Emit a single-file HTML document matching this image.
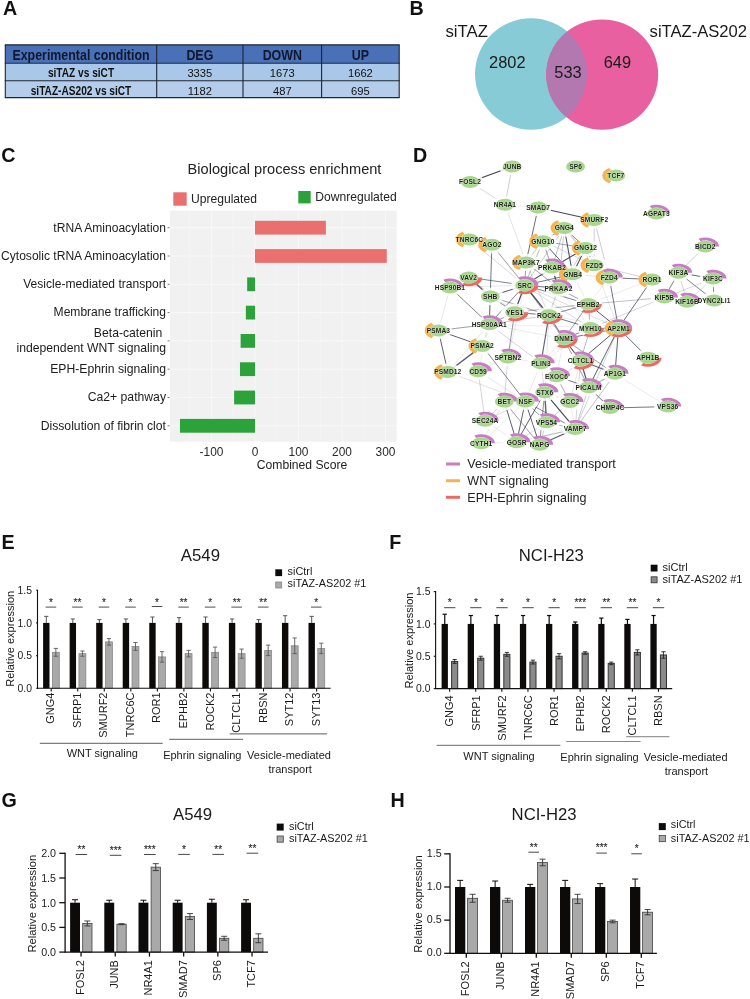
<!DOCTYPE html>
<html><head><meta charset="utf-8"><title>Figure</title>
<style>html,body{margin:0;padding:0;background:#fff}svg{display:block}text{font-family:'Liberation Sans', Arial, sans-serif;}</style>
</head><body>
<svg width="750" height="999" viewBox="0 0 750 999">
<rect width="750" height="999" fill="#ffffff"/>
<text x="3.00" y="15.00" font-size="19.7" text-anchor="start" font-weight="bold" fill="#111" >A</text>
<text x="409.40" y="14.80" font-size="19.7" text-anchor="start" font-weight="bold" fill="#111" >B</text>
<text x="1.30" y="162.40" font-size="19.7" text-anchor="start" font-weight="bold" fill="#111" >C</text>
<text x="413.00" y="162.20" font-size="19.7" text-anchor="start" font-weight="bold" fill="#111" >D</text>
<text x="1.40" y="549.00" font-size="19.7" text-anchor="start" font-weight="bold" fill="#111" >E</text>
<text x="389.20" y="549.20" font-size="19.7" text-anchor="start" font-weight="bold" fill="#111" >F</text>
<text x="1.50" y="806.80" font-size="19.7" text-anchor="start" font-weight="bold" fill="#111" >G</text>
<text x="390.40" y="807.20" font-size="19.7" text-anchor="start" font-weight="bold" fill="#111" >H</text>
<rect x="5.30" y="44.90" width="393.90" height="18.40" fill="#4a70b8" />
<rect x="5.30" y="63.30" width="393.90" height="17.40" fill="#a9c7e9" />
<rect x="5.30" y="80.70" width="393.90" height="16.90" fill="#b3cdeb" />
<line x1="4.80" y1="44.90" x2="399.70" y2="44.90" stroke="#1d2433" stroke-width="1.1" />
<line x1="4.80" y1="63.30" x2="399.70" y2="63.30" stroke="#1d2433" stroke-width="1.1" />
<line x1="4.80" y1="80.70" x2="399.70" y2="80.70" stroke="#1d2433" stroke-width="1.1" />
<line x1="4.80" y1="97.60" x2="399.70" y2="97.60" stroke="#1d2433" stroke-width="1.1" />
<line x1="5.30" y1="44.90" x2="5.30" y2="97.60" stroke="#1d2433" stroke-width="1.1" />
<line x1="156.70" y1="44.90" x2="156.70" y2="97.60" stroke="#1d2433" stroke-width="1.1" />
<line x1="243.00" y1="44.90" x2="243.00" y2="97.60" stroke="#1d2433" stroke-width="1.1" />
<line x1="321.60" y1="44.90" x2="321.60" y2="97.60" stroke="#1d2433" stroke-width="1.1" />
<line x1="399.20" y1="44.90" x2="399.20" y2="97.60" stroke="#1d2433" stroke-width="1.1" />
<text x="0" y="0" transform="translate(81.00,60.00) scale(0.887,1)" font-size="14" text-anchor="middle" font-weight="bold" fill="#10182c" >Experimental condition</text>
<text x="0" y="0" transform="translate(199.85,60.00) scale(0.887,1)" font-size="14" text-anchor="middle" font-weight="bold" fill="#10182c" >DEG</text>
<text x="0" y="0" transform="translate(282.30,60.00) scale(0.887,1)" font-size="14" text-anchor="middle" font-weight="bold" fill="#10182c" >DOWN</text>
<text x="0" y="0" transform="translate(360.40,60.00) scale(0.887,1)" font-size="14" text-anchor="middle" font-weight="bold" fill="#10182c" >UP</text>
<text x="0" y="0" transform="translate(81.00,77.30) scale(0.805,1)" font-size="12.6" text-anchor="middle" font-weight="bold" fill="#111" >siTAZ vs siCT</text>
<text x="0" y="0" transform="translate(199.85,77.30) scale(0.95,1)" font-size="11.8" text-anchor="middle" fill="#111" >3335</text>
<text x="0" y="0" transform="translate(282.30,77.30) scale(0.95,1)" font-size="11.8" text-anchor="middle" fill="#111" >1673</text>
<text x="0" y="0" transform="translate(360.40,77.30) scale(0.95,1)" font-size="11.8" text-anchor="middle" fill="#111" >1662</text>
<text x="0" y="0" transform="translate(81.00,94.70) scale(0.805,1)" font-size="12.6" text-anchor="middle" font-weight="bold" fill="#111" >siTAZ-AS202 vs siCT</text>
<text x="0" y="0" transform="translate(199.85,94.70) scale(0.95,1)" font-size="11.8" text-anchor="middle" fill="#111" >1182</text>
<text x="0" y="0" transform="translate(282.30,94.70) scale(0.95,1)" font-size="11.8" text-anchor="middle" fill="#111" >487</text>
<text x="0" y="0" transform="translate(360.40,94.70) scale(0.95,1)" font-size="11.8" text-anchor="middle" fill="#111" >695</text>
<ellipse cx="531" cy="74" rx="56" ry="55.8" fill="#87cbd7"/>
<ellipse cx="602.2" cy="74.6" rx="56" ry="55.2" fill="#e8609f"/>
<clipPath id="cl"><ellipse cx="531" cy="74" rx="56" ry="55.8"/></clipPath>
<ellipse cx="602.2" cy="74.6" rx="56" ry="55.2" fill="#b478b1" clip-path="url(#cl)"/>
<text x="445.40" y="36.80" font-size="16.8" text-anchor="start" fill="#1a1a1a" >siTAZ</text>
<text x="649.60" y="36.90" font-size="16.6" text-anchor="start" fill="#1a1a1a" >siTAZ-AS202</text>
<text x="507.30" y="67.60" font-size="16.4" text-anchor="middle" fill="#1a1a1a" >2802</text>
<text x="568.00" y="77.60" font-size="16.4" text-anchor="middle" fill="#1a1a1a" >533</text>
<text x="617.40" y="67.80" font-size="16.4" text-anchor="middle" fill="#1a1a1a" >649</text>
<rect x="170.00" y="210.70" width="226.70" height="231.00" fill="#f1f1f1" />
<line x1="189.75" y1="210.70" x2="189.75" y2="441.70" stroke="#f8f8f8" stroke-width="0.5" />
<line x1="233.25" y1="210.70" x2="233.25" y2="441.70" stroke="#f8f8f8" stroke-width="0.5" />
<line x1="276.75" y1="210.70" x2="276.75" y2="441.70" stroke="#f8f8f8" stroke-width="0.5" />
<line x1="320.25" y1="210.70" x2="320.25" y2="441.70" stroke="#f8f8f8" stroke-width="0.5" />
<line x1="363.75" y1="210.70" x2="363.75" y2="441.70" stroke="#f8f8f8" stroke-width="0.5" />
<line x1="211.50" y1="210.70" x2="211.50" y2="441.70" stroke="#fafafa" stroke-width="0.8" />
<line x1="255.00" y1="210.70" x2="255.00" y2="441.70" stroke="#fafafa" stroke-width="0.8" />
<line x1="298.50" y1="210.70" x2="298.50" y2="441.70" stroke="#fafafa" stroke-width="0.8" />
<line x1="342.00" y1="210.70" x2="342.00" y2="441.70" stroke="#fafafa" stroke-width="0.8" />
<line x1="385.50" y1="210.70" x2="385.50" y2="441.70" stroke="#fafafa" stroke-width="0.8" />
<line x1="170.00" y1="227.70" x2="396.70" y2="227.70" stroke="#fafafa" stroke-width="0.8" />
<line x1="170.00" y1="256.00" x2="396.70" y2="256.00" stroke="#fafafa" stroke-width="0.8" />
<line x1="170.00" y1="284.30" x2="396.70" y2="284.30" stroke="#fafafa" stroke-width="0.8" />
<line x1="170.00" y1="312.60" x2="396.70" y2="312.60" stroke="#fafafa" stroke-width="0.8" />
<line x1="170.00" y1="340.90" x2="396.70" y2="340.90" stroke="#fafafa" stroke-width="0.8" />
<line x1="170.00" y1="369.20" x2="396.70" y2="369.20" stroke="#fafafa" stroke-width="0.8" />
<line x1="170.00" y1="397.50" x2="396.70" y2="397.50" stroke="#fafafa" stroke-width="0.8" />
<line x1="170.00" y1="425.80" x2="396.70" y2="425.80" stroke="#fafafa" stroke-width="0.8" />
<rect x="255.00" y="220.80" width="70.90" height="13.80" fill="#ea7070" />
<line x1="167.60" y1="227.70" x2="169.60" y2="227.70" stroke="#555" stroke-width="0.8" />
<text x="166.00" y="231.50" font-size="12.07" text-anchor="end" fill="#1c1c1c" >tRNA Aminoacylation</text>
<rect x="255.00" y="249.10" width="131.81" height="13.80" fill="#ea7070" />
<line x1="167.60" y1="256.00" x2="169.60" y2="256.00" stroke="#555" stroke-width="0.8" />
<text x="166.00" y="259.80" font-size="12.07" text-anchor="end" fill="#1c1c1c" >Cytosolic tRNA Aminoacylation</text>
<rect x="247.17" y="277.40" width="7.83" height="13.80" fill="#2ca33a" />
<line x1="167.60" y1="284.30" x2="169.60" y2="284.30" stroke="#555" stroke-width="0.8" />
<text x="166.00" y="288.10" font-size="12.07" text-anchor="end" fill="#1c1c1c" >Vesicle-mediated transport</text>
<rect x="245.87" y="305.70" width="9.13" height="13.80" fill="#2ca33a" />
<line x1="167.60" y1="312.60" x2="169.60" y2="312.60" stroke="#555" stroke-width="0.8" />
<text x="166.00" y="316.40" font-size="12.07" text-anchor="end" fill="#1c1c1c" >Membrane trafficking</text>
<rect x="240.65" y="334.00" width="14.35" height="13.80" fill="#2ca33a" />
<line x1="167.60" y1="340.90" x2="169.60" y2="340.90" stroke="#555" stroke-width="0.8" />
<rect x="239.99" y="362.30" width="15.01" height="13.80" fill="#2ca33a" />
<line x1="167.60" y1="369.20" x2="169.60" y2="369.20" stroke="#555" stroke-width="0.8" />
<text x="166.00" y="373.00" font-size="12.2" text-anchor="end" fill="#1c1c1c" >EPH-Ephrin signaling</text>
<rect x="234.12" y="390.60" width="20.88" height="13.80" fill="#2ca33a" />
<line x1="167.60" y1="397.50" x2="169.60" y2="397.50" stroke="#555" stroke-width="0.8" />
<text x="166.00" y="401.30" font-size="12.2" text-anchor="end" fill="#1c1c1c" >Ca2+ pathway</text>
<rect x="179.96" y="418.90" width="75.04" height="13.80" fill="#2ca33a" />
<line x1="167.60" y1="425.80" x2="169.60" y2="425.80" stroke="#555" stroke-width="0.8" />
<text x="166.00" y="429.60" font-size="12.2" text-anchor="end" fill="#1c1c1c" >Dissolution of fibrin clot</text>
<text x="162.30" y="336.50" font-size="12.2" text-anchor="end" fill="#1c1c1c" >Beta-catenin</text>
<text x="166.00" y="351.70" font-size="12.2" text-anchor="end" fill="#1c1c1c" >independent WNT signaling</text>
<text x="211.50" y="455.70" font-size="11.9" text-anchor="middle" fill="#2a2a2a" >-100</text>
<text x="255.00" y="455.70" font-size="11.9" text-anchor="middle" fill="#2a2a2a" >0</text>
<text x="298.50" y="455.70" font-size="11.9" text-anchor="middle" fill="#2a2a2a" >100</text>
<text x="342.00" y="455.70" font-size="11.9" text-anchor="middle" fill="#2a2a2a" >200</text>
<text x="385.50" y="455.70" font-size="11.9" text-anchor="middle" fill="#2a2a2a" >300</text>
<text x="302.00" y="469.00" font-size="12.15" text-anchor="middle" fill="#222" >Combined Score</text>
<text x="284.50" y="174.00" font-size="14.6" text-anchor="middle" fill="#222" >Biological process enrichment</text>
<rect x="173.30" y="192.30" width="13.40" height="13.40" fill="#ea7070" />
<text x="191.00" y="203.30" font-size="12.1" text-anchor="start" fill="#222" >Upregulated</text>
<rect x="298.30" y="191.00" width="12.40" height="12.40" fill="#2ca33a" />
<text x="315.30" y="201.00" font-size="12.1" text-anchor="start" fill="#222" >Downregulated</text>
<g stroke="#3a3c50" stroke-linecap="round">
<line x1="512.2" y1="166.6" x2="470.1" y2="182" stroke-width="1.14" stroke-opacity="0.95"/>
<line x1="512.2" y1="166.6" x2="505" y2="204.7" stroke-width="0.44" stroke-opacity="0.6"/>
<line x1="470.1" y1="182" x2="505" y2="204.7" stroke-width="0.44" stroke-opacity="0.45"/>
<line x1="505" y1="204.7" x2="538.2" y2="207.5" stroke-width="0.35" stroke-opacity="0.3"/>
<line x1="505" y1="204.7" x2="526" y2="262.4" stroke-width="0.35" stroke-opacity="0.4"/>
<line x1="538.2" y1="207.5" x2="594.2" y2="220" stroke-width="1.06" stroke-opacity="0.95"/>
<line x1="538.2" y1="207.5" x2="526" y2="262.4" stroke-width="0.88" stroke-opacity="0.85"/>
<line x1="594.2" y1="220" x2="594.2" y2="265.2" stroke-width="0.44" stroke-opacity="0.6"/>
<line x1="594.2" y1="220" x2="609.2" y2="277.6" stroke-width="0.44" stroke-opacity="0.6"/>
<line x1="564.3" y1="228" x2="542.9" y2="241.3" stroke-width="0.79" stroke-opacity="0.7"/>
<line x1="564.3" y1="228" x2="585.5" y2="247.9" stroke-width="0.88" stroke-opacity="0.7"/>
<line x1="564.3" y1="228" x2="572.6" y2="274.3" stroke-width="1.06" stroke-opacity="0.9"/>
<line x1="564.3" y1="228" x2="552" y2="267.5" stroke-width="0.53" stroke-opacity="0.6"/>
<line x1="564.3" y1="228" x2="594.2" y2="265.2" stroke-width="0.53" stroke-opacity="0.5"/>
<line x1="564.3" y1="228" x2="609.2" y2="277.6" stroke-width="0.44" stroke-opacity="0.4"/>
<line x1="564.3" y1="228" x2="524.7" y2="285.2" stroke-width="0.53" stroke-opacity="0.5"/>
<line x1="564.3" y1="228" x2="558.5" y2="288.3" stroke-width="0.53" stroke-opacity="0.5"/>
<line x1="542.9" y1="241.3" x2="585.5" y2="247.9" stroke-width="0.79" stroke-opacity="0.6"/>
<line x1="542.9" y1="241.3" x2="572.6" y2="274.3" stroke-width="0.97" stroke-opacity="0.85"/>
<line x1="542.9" y1="241.3" x2="594.2" y2="265.2" stroke-width="0.44" stroke-opacity="0.4"/>
<line x1="542.9" y1="241.3" x2="524.7" y2="285.2" stroke-width="0.62" stroke-opacity="0.6"/>
<line x1="542.9" y1="241.3" x2="552" y2="267.5" stroke-width="0.53" stroke-opacity="0.6"/>
<line x1="542.9" y1="241.3" x2="526" y2="262.4" stroke-width="0.53" stroke-opacity="0.5"/>
<line x1="542.9" y1="241.3" x2="558.5" y2="288.3" stroke-width="0.44" stroke-opacity="0.5"/>
<line x1="585.5" y1="247.9" x2="572.6" y2="274.3" stroke-width="1.06" stroke-opacity="0.9"/>
<line x1="585.5" y1="247.9" x2="594.2" y2="265.2" stroke-width="0.70" stroke-opacity="0.6"/>
<line x1="585.5" y1="247.9" x2="552" y2="267.5" stroke-width="0.88" stroke-opacity="0.8"/>
<line x1="585.5" y1="247.9" x2="524.7" y2="285.2" stroke-width="0.88" stroke-opacity="0.8"/>
<line x1="585.5" y1="247.9" x2="558.5" y2="288.3" stroke-width="0.53" stroke-opacity="0.5"/>
<line x1="585.5" y1="247.9" x2="609.2" y2="277.6" stroke-width="0.44" stroke-opacity="0.4"/>
<line x1="572.6" y1="274.3" x2="594.2" y2="265.2" stroke-width="0.53" stroke-opacity="0.5"/>
<line x1="572.6" y1="274.3" x2="609.2" y2="277.6" stroke-width="0.44" stroke-opacity="0.35"/>
<line x1="572.6" y1="274.3" x2="552" y2="267.5" stroke-width="0.53" stroke-opacity="0.6"/>
<line x1="572.6" y1="274.3" x2="524.7" y2="285.2" stroke-width="0.88" stroke-opacity="0.8"/>
<line x1="572.6" y1="274.3" x2="558.5" y2="288.3" stroke-width="0.62" stroke-opacity="0.6"/>
<line x1="572.6" y1="274.3" x2="588.2" y2="304.1" stroke-width="0.35" stroke-opacity="0.3"/>
<line x1="526" y1="262.4" x2="524.7" y2="285.2" stroke-width="0.70" stroke-opacity="0.7"/>
<line x1="526" y1="262.4" x2="552" y2="267.5" stroke-width="0.70" stroke-opacity="0.7"/>
<line x1="526" y1="262.4" x2="558.5" y2="288.3" stroke-width="0.70" stroke-opacity="0.7"/>
<line x1="526" y1="262.4" x2="548.9" y2="315.3" stroke-width="0.44" stroke-opacity="0.4"/>
<line x1="552" y1="267.5" x2="558.5" y2="288.3" stroke-width="1.14" stroke-opacity="0.95"/>
<line x1="552" y1="267.5" x2="524.7" y2="285.2" stroke-width="0.79" stroke-opacity="0.8"/>
<line x1="558.5" y1="288.3" x2="524.7" y2="285.2" stroke-width="0.88" stroke-opacity="0.8"/>
<line x1="558.5" y1="288.3" x2="548.9" y2="315.3" stroke-width="0.53" stroke-opacity="0.5"/>
<line x1="558.5" y1="288.3" x2="588.2" y2="304.1" stroke-width="0.70" stroke-opacity="0.7"/>
<line x1="558.5" y1="288.3" x2="590.4" y2="328.1" stroke-width="0.35" stroke-opacity="0.3"/>
<line x1="594.2" y1="265.2" x2="609.2" y2="277.6" stroke-width="0.53" stroke-opacity="0.5"/>
<line x1="609.2" y1="277.6" x2="652" y2="279.5" stroke-width="0.88" stroke-opacity="0.8"/>
<line x1="594.2" y1="265.2" x2="652" y2="279.5" stroke-width="0.44" stroke-opacity="0.5"/>
<line x1="609.2" y1="277.6" x2="618.5" y2="328.3" stroke-width="0.88" stroke-opacity="0.8"/>
<line x1="594.2" y1="265.2" x2="618.5" y2="328.3" stroke-width="0.35" stroke-opacity="0.35"/>
<line x1="652" y1="279.5" x2="618.5" y2="328.3" stroke-width="0.88" stroke-opacity="0.85"/>
<line x1="609.2" y1="277.6" x2="588.2" y2="304.1" stroke-width="0.35" stroke-opacity="0.3"/>
<line x1="469.4" y1="239.5" x2="491.9" y2="244.8" stroke-width="1.06" stroke-opacity="0.9"/>
<line x1="491.9" y1="244.8" x2="489.3" y2="324.3" stroke-width="0.88" stroke-opacity="0.8"/>
<line x1="491.9" y1="244.8" x2="524.7" y2="285.2" stroke-width="0.62" stroke-opacity="0.7"/>
<line x1="469.4" y1="239.5" x2="524.7" y2="285.2" stroke-width="0.44" stroke-opacity="0.45"/>
<line x1="491.9" y1="244.8" x2="548.9" y2="315.3" stroke-width="0.35" stroke-opacity="0.3"/>
<line x1="468.7" y1="277.4" x2="524.7" y2="285.2" stroke-width="0.79" stroke-opacity="0.8"/>
<line x1="468.7" y1="277.4" x2="490.3" y2="296.5" stroke-width="1.41" stroke-opacity="0.8"/>
<line x1="468.7" y1="277.4" x2="514.7" y2="312.3" stroke-width="0.44" stroke-opacity="0.4"/>
<line x1="450" y1="287.4" x2="524.7" y2="285.2" stroke-width="0.44" stroke-opacity="0.3"/>
<line x1="450" y1="287.4" x2="489.3" y2="324.3" stroke-width="0.79" stroke-opacity="0.8"/>
<line x1="450" y1="287.4" x2="438.4" y2="330.5" stroke-width="0.35" stroke-opacity="0.35"/>
<line x1="490.3" y1="296.5" x2="524.7" y2="285.2" stroke-width="1.06" stroke-opacity="0.85"/>
<line x1="490.3" y1="296.5" x2="514.7" y2="312.3" stroke-width="0.79" stroke-opacity="0.7"/>
<line x1="490.3" y1="296.5" x2="548.9" y2="315.3" stroke-width="0.70" stroke-opacity="0.7"/>
<line x1="490.3" y1="296.5" x2="489.3" y2="324.3" stroke-width="0.53" stroke-opacity="0.5"/>
<line x1="524.7" y1="285.2" x2="514.7" y2="312.3" stroke-width="1.23" stroke-opacity="0.9"/>
<line x1="524.7" y1="285.2" x2="548.9" y2="315.3" stroke-width="1.32" stroke-opacity="0.9"/>
<line x1="524.7" y1="285.2" x2="489.3" y2="324.3" stroke-width="0.79" stroke-opacity="0.8"/>
<line x1="524.7" y1="285.2" x2="588.2" y2="304.1" stroke-width="0.79" stroke-opacity="0.8"/>
<line x1="524.7" y1="285.2" x2="564" y2="339" stroke-width="0.70" stroke-opacity="0.7"/>
<line x1="524.7" y1="285.2" x2="590.4" y2="328.1" stroke-width="0.44" stroke-opacity="0.4"/>
<line x1="524.7" y1="285.2" x2="618.5" y2="328.3" stroke-width="0.44" stroke-opacity="0.4"/>
<line x1="524.7" y1="285.2" x2="507.9" y2="357.6" stroke-width="0.35" stroke-opacity="0.3"/>
<line x1="514.7" y1="312.3" x2="548.9" y2="315.3" stroke-width="0.88" stroke-opacity="0.8"/>
<line x1="514.7" y1="312.3" x2="489.3" y2="324.3" stroke-width="0.70" stroke-opacity="0.7"/>
<line x1="514.7" y1="312.3" x2="507.9" y2="357.6" stroke-width="0.70" stroke-opacity="0.75"/>
<line x1="514.7" y1="312.3" x2="588.2" y2="304.1" stroke-width="0.62" stroke-opacity="0.6"/>
<line x1="489.3" y1="324.3" x2="548.9" y2="315.3" stroke-width="0.53" stroke-opacity="0.5"/>
<line x1="489.3" y1="324.3" x2="541" y2="363.2" stroke-width="0.44" stroke-opacity="0.5"/>
<line x1="489.3" y1="324.3" x2="438.4" y2="330.5" stroke-width="0.70" stroke-opacity="0.7"/>
<line x1="489.3" y1="324.3" x2="482.2" y2="345.9" stroke-width="0.44" stroke-opacity="0.4"/>
<line x1="489.3" y1="324.3" x2="447.8" y2="372" stroke-width="0.35" stroke-opacity="0.4"/>
<line x1="489.3" y1="324.3" x2="478.2" y2="371.3" stroke-width="0.35" stroke-opacity="0.3"/>
<line x1="489.3" y1="324.3" x2="618.5" y2="328.3" stroke-width="0.35" stroke-opacity="0.25"/>
<line x1="489.3" y1="324.3" x2="564" y2="339" stroke-width="0.35" stroke-opacity="0.3"/>
<line x1="438.4" y1="330.5" x2="482.2" y2="345.9" stroke-width="0.97" stroke-opacity="0.85"/>
<line x1="438.4" y1="330.5" x2="447.8" y2="372" stroke-width="0.97" stroke-opacity="0.85"/>
<line x1="482.2" y1="345.9" x2="447.8" y2="372" stroke-width="1.32" stroke-opacity="0.85"/>
<line x1="447.8" y1="372" x2="525.3" y2="401.4" stroke-width="0.35" stroke-opacity="0.45"/>
<line x1="482.2" y1="345.9" x2="525.3" y2="401.4" stroke-width="0.79" stroke-opacity="0.8"/>
<line x1="478.2" y1="371.3" x2="507.9" y2="357.6" stroke-width="0.35" stroke-opacity="0.35"/>
<line x1="478.2" y1="371.3" x2="485.1" y2="420.8" stroke-width="0.44" stroke-opacity="0.5"/>
<line x1="478.2" y1="371.3" x2="525.3" y2="401.4" stroke-width="0.35" stroke-opacity="0.35"/>
<line x1="507.9" y1="357.6" x2="504.3" y2="401.6" stroke-width="0.44" stroke-opacity="0.5"/>
<line x1="507.9" y1="357.6" x2="541" y2="363.2" stroke-width="0.35" stroke-opacity="0.3"/>
<line x1="548.9" y1="315.3" x2="588.2" y2="304.1" stroke-width="0.79" stroke-opacity="0.8"/>
<line x1="548.9" y1="315.3" x2="590.4" y2="328.1" stroke-width="0.88" stroke-opacity="0.8"/>
<line x1="548.9" y1="315.3" x2="564" y2="339" stroke-width="0.88" stroke-opacity="0.8"/>
<line x1="548.9" y1="315.3" x2="541" y2="363.2" stroke-width="1.14" stroke-opacity="0.8"/>
<line x1="548.9" y1="315.3" x2="618.5" y2="328.3" stroke-width="0.35" stroke-opacity="0.3"/>
<line x1="548.9" y1="315.3" x2="544.7" y2="392.3" stroke-width="0.35" stroke-opacity="0.4"/>
<line x1="588.2" y1="304.1" x2="618.5" y2="328.3" stroke-width="0.97" stroke-opacity="0.85"/>
<line x1="588.2" y1="304.1" x2="590.4" y2="328.1" stroke-width="0.62" stroke-opacity="0.6"/>
<line x1="588.2" y1="304.1" x2="564" y2="339" stroke-width="0.70" stroke-opacity="0.7"/>
<line x1="588.2" y1="304.1" x2="664.4" y2="297.6" stroke-width="0.53" stroke-opacity="0.6"/>
<line x1="590.4" y1="328.1" x2="664.4" y2="297.6" stroke-width="0.44" stroke-opacity="0.5"/>
<line x1="588.2" y1="304.1" x2="652" y2="279.5" stroke-width="0.35" stroke-opacity="0.3"/>
<line x1="590.4" y1="328.1" x2="618.5" y2="328.3" stroke-width="0.70" stroke-opacity="0.7"/>
<line x1="590.4" y1="328.1" x2="564" y2="339" stroke-width="0.79" stroke-opacity="0.8"/>
<line x1="590.4" y1="328.1" x2="580.5" y2="360.5" stroke-width="0.62" stroke-opacity="0.6"/>
<line x1="590.4" y1="328.1" x2="541" y2="363.2" stroke-width="0.35" stroke-opacity="0.3"/>
<line x1="564" y1="339" x2="618.5" y2="328.3" stroke-width="0.88" stroke-opacity="0.8"/>
<line x1="564" y1="339" x2="580.5" y2="360.5" stroke-width="1.14" stroke-opacity="0.9"/>
<line x1="564" y1="339" x2="615" y2="373.8" stroke-width="0.70" stroke-opacity="0.7"/>
<line x1="564" y1="339" x2="588.7" y2="387.3" stroke-width="0.70" stroke-opacity="0.7"/>
<line x1="564" y1="339" x2="541" y2="363.2" stroke-width="0.35" stroke-opacity="0.3"/>
<line x1="564" y1="339" x2="556.5" y2="376.2" stroke-width="0.35" stroke-opacity="0.3"/>
<line x1="618.5" y1="328.3" x2="580.5" y2="360.5" stroke-width="0.97" stroke-opacity="0.85"/>
<line x1="618.5" y1="328.3" x2="615" y2="373.8" stroke-width="0.97" stroke-opacity="0.85"/>
<line x1="618.5" y1="328.3" x2="647.9" y2="357.7" stroke-width="0.88" stroke-opacity="0.85"/>
<line x1="618.5" y1="328.3" x2="588.7" y2="387.3" stroke-width="0.97" stroke-opacity="0.85"/>
<line x1="618.5" y1="328.3" x2="575.3" y2="428.9" stroke-width="0.44" stroke-opacity="0.5"/>
<line x1="618.5" y1="328.3" x2="544.7" y2="392.3" stroke-width="0.35" stroke-opacity="0.3"/>
<line x1="580.5" y1="360.5" x2="615" y2="373.8" stroke-width="1.23" stroke-opacity="0.8"/>
<line x1="580.5" y1="360.5" x2="588.7" y2="387.3" stroke-width="1.23" stroke-opacity="0.85"/>
<line x1="580.5" y1="360.5" x2="575.3" y2="428.9" stroke-width="0.44" stroke-opacity="0.5"/>
<line x1="580.5" y1="360.5" x2="544.7" y2="392.3" stroke-width="0.35" stroke-opacity="0.35"/>
<line x1="580.5" y1="360.5" x2="569.8" y2="402" stroke-width="0.35" stroke-opacity="0.35"/>
<line x1="615" y1="373.8" x2="588.7" y2="387.3" stroke-width="0.70" stroke-opacity="0.7"/>
<line x1="615" y1="373.8" x2="667.7" y2="406.6" stroke-width="0.35" stroke-opacity="0.3"/>
<line x1="615" y1="373.8" x2="575.3" y2="428.9" stroke-width="0.53" stroke-opacity="0.6"/>
<line x1="588.7" y1="387.3" x2="610" y2="408" stroke-width="0.88" stroke-opacity="0.85"/>
<line x1="610" y1="408" x2="667.7" y2="406.6" stroke-width="0.88" stroke-opacity="0.8"/>
<line x1="588.7" y1="387.3" x2="575.3" y2="428.9" stroke-width="0.53" stroke-opacity="0.55"/>
<line x1="588.7" y1="387.3" x2="569.8" y2="402" stroke-width="0.35" stroke-opacity="0.35"/>
<line x1="588.7" y1="387.3" x2="556.5" y2="376.2" stroke-width="0.88" stroke-opacity="0.8"/>
<line x1="556.5" y1="376.2" x2="569.8" y2="402" stroke-width="0.62" stroke-opacity="0.7"/>
<line x1="556.5" y1="376.2" x2="544.7" y2="392.3" stroke-width="0.44" stroke-opacity="0.5"/>
<line x1="541" y1="363.2" x2="544.7" y2="392.3" stroke-width="0.44" stroke-opacity="0.45"/>
<line x1="541" y1="363.2" x2="556.5" y2="376.2" stroke-width="0.35" stroke-opacity="0.3"/>
<line x1="541" y1="363.2" x2="525.3" y2="401.4" stroke-width="0.35" stroke-opacity="0.3"/>
<line x1="544.7" y1="392.3" x2="569.8" y2="402" stroke-width="0.44" stroke-opacity="0.4"/>
<line x1="544.7" y1="392.3" x2="546.5" y2="422.2" stroke-width="1.41" stroke-opacity="0.8"/>
<line x1="544.7" y1="392.3" x2="575.3" y2="428.9" stroke-width="1.23" stroke-opacity="0.9"/>
<line x1="544.7" y1="392.3" x2="516.7" y2="442.2" stroke-width="0.97" stroke-opacity="0.85"/>
<line x1="544.7" y1="392.3" x2="539.6" y2="444.8" stroke-width="0.79" stroke-opacity="0.7"/>
<line x1="544.7" y1="392.3" x2="525.3" y2="401.4" stroke-width="0.53" stroke-opacity="0.5"/>
<line x1="525.3" y1="401.4" x2="516.7" y2="442.2" stroke-width="0.97" stroke-opacity="0.85"/>
<line x1="525.3" y1="401.4" x2="539.6" y2="444.8" stroke-width="0.97" stroke-opacity="0.85"/>
<line x1="525.3" y1="401.4" x2="546.5" y2="422.2" stroke-width="0.70" stroke-opacity="0.7"/>
<line x1="525.3" y1="401.4" x2="575.3" y2="428.9" stroke-width="0.79" stroke-opacity="0.8"/>
<line x1="525.3" y1="401.4" x2="485.1" y2="420.8" stroke-width="0.44" stroke-opacity="0.4"/>
<line x1="525.3" y1="401.4" x2="481.2" y2="443.2" stroke-width="0.35" stroke-opacity="0.3"/>
<line x1="525.3" y1="401.4" x2="504.3" y2="401.6" stroke-width="0.35" stroke-opacity="0.3"/>
<line x1="504.3" y1="401.6" x2="516.7" y2="442.2" stroke-width="0.97" stroke-opacity="0.85"/>
<line x1="504.3" y1="401.6" x2="539.6" y2="444.8" stroke-width="0.70" stroke-opacity="0.7"/>
<line x1="504.3" y1="401.6" x2="485.1" y2="420.8" stroke-width="0.53" stroke-opacity="0.5"/>
<line x1="504.3" y1="401.6" x2="481.2" y2="443.2" stroke-width="0.35" stroke-opacity="0.3"/>
<line x1="546.5" y1="422.2" x2="539.6" y2="444.8" stroke-width="0.53" stroke-opacity="0.5"/>
<line x1="546.5" y1="422.2" x2="575.3" y2="428.9" stroke-width="0.62" stroke-opacity="0.6"/>
<line x1="546.5" y1="422.2" x2="569.8" y2="402" stroke-width="0.53" stroke-opacity="0.5"/>
<line x1="546.5" y1="422.2" x2="516.7" y2="442.2" stroke-width="0.44" stroke-opacity="0.4"/>
<line x1="575.3" y1="428.9" x2="539.6" y2="444.8" stroke-width="1.23" stroke-opacity="0.8"/>
<line x1="575.3" y1="428.9" x2="516.7" y2="442.2" stroke-width="0.62" stroke-opacity="0.6"/>
<line x1="569.8" y1="402" x2="575.3" y2="428.9" stroke-width="0.35" stroke-opacity="0.3"/>
<line x1="485.1" y1="420.8" x2="516.7" y2="442.2" stroke-width="0.35" stroke-opacity="0.3"/>
<line x1="481.2" y1="443.2" x2="516.7" y2="442.2" stroke-width="0.35" stroke-opacity="0.25"/>
<line x1="705.3" y1="246.5" x2="678.5" y2="272.7" stroke-width="0.44" stroke-opacity="0.6"/>
<line x1="678.5" y1="272.7" x2="713" y2="278.6" stroke-width="0.88" stroke-opacity="0.9"/>
<line x1="678.5" y1="272.7" x2="664.4" y2="297.6" stroke-width="1.06" stroke-opacity="0.55"/>
<line x1="678.5" y1="272.7" x2="687" y2="301.8" stroke-width="0.44" stroke-opacity="0.5"/>
<line x1="678.5" y1="272.7" x2="714" y2="300.5" stroke-width="0.79" stroke-opacity="0.8"/>
<line x1="713" y1="278.6" x2="664.4" y2="297.6" stroke-width="0.44" stroke-opacity="0.45"/>
<line x1="713" y1="278.6" x2="687" y2="301.8" stroke-width="0.44" stroke-opacity="0.4"/>
<line x1="713" y1="278.6" x2="714" y2="300.5" stroke-width="0.79" stroke-opacity="0.8"/>
<line x1="664.4" y1="297.6" x2="687" y2="301.8" stroke-width="0.35" stroke-opacity="0.3"/>
</g>
<ellipse cx="512.2" cy="166.6" rx="13.63" ry="8.70" fill="#fff" fill-opacity="0.85"/>
<ellipse cx="470.1" cy="182" rx="13.63" ry="8.70" fill="#fff" fill-opacity="0.85"/>
<ellipse cx="575.6" cy="166.6" rx="13.63" ry="8.70" fill="#fff" fill-opacity="0.85"/>
<ellipse cx="615.9" cy="175.6" rx="13.63" ry="8.70" fill="#fff" fill-opacity="0.85"/>
<ellipse cx="505" cy="204.7" rx="13.63" ry="8.70" fill="#fff" fill-opacity="0.85"/>
<ellipse cx="538.2" cy="207.5" rx="13.63" ry="8.70" fill="#fff" fill-opacity="0.85"/>
<ellipse cx="656.4" cy="213.6" rx="13.63" ry="8.70" fill="#fff" fill-opacity="0.85"/>
<ellipse cx="594.2" cy="220" rx="13.63" ry="8.70" fill="#fff" fill-opacity="0.85"/>
<ellipse cx="564.3" cy="228" rx="13.63" ry="8.70" fill="#fff" fill-opacity="0.85"/>
<ellipse cx="469.4" cy="239.5" rx="13.63" ry="8.70" fill="#fff" fill-opacity="0.85"/>
<ellipse cx="542.9" cy="241.3" rx="13.63" ry="8.70" fill="#fff" fill-opacity="0.85"/>
<ellipse cx="491.9" cy="244.8" rx="13.63" ry="8.70" fill="#fff" fill-opacity="0.85"/>
<ellipse cx="585.5" cy="247.9" rx="13.63" ry="8.70" fill="#fff" fill-opacity="0.85"/>
<ellipse cx="705.3" cy="246.5" rx="13.63" ry="8.70" fill="#fff" fill-opacity="0.85"/>
<ellipse cx="526" cy="262.4" rx="13.63" ry="8.70" fill="#fff" fill-opacity="0.85"/>
<ellipse cx="552" cy="267.5" rx="13.63" ry="8.70" fill="#fff" fill-opacity="0.85"/>
<ellipse cx="594.2" cy="265.2" rx="13.63" ry="8.70" fill="#fff" fill-opacity="0.85"/>
<ellipse cx="572.6" cy="274.3" rx="13.63" ry="8.70" fill="#fff" fill-opacity="0.85"/>
<ellipse cx="678.5" cy="272.7" rx="13.63" ry="8.70" fill="#fff" fill-opacity="0.85"/>
<ellipse cx="609.2" cy="277.6" rx="13.63" ry="8.70" fill="#fff" fill-opacity="0.85"/>
<ellipse cx="468.7" cy="277.4" rx="13.63" ry="8.70" fill="#fff" fill-opacity="0.85"/>
<ellipse cx="713" cy="278.6" rx="13.63" ry="8.70" fill="#fff" fill-opacity="0.85"/>
<ellipse cx="652" cy="279.5" rx="13.63" ry="8.70" fill="#fff" fill-opacity="0.85"/>
<ellipse cx="524.7" cy="285.2" rx="13.63" ry="8.70" fill="#fff" fill-opacity="0.85"/>
<ellipse cx="450" cy="287.4" rx="13.63" ry="8.70" fill="#fff" fill-opacity="0.85"/>
<ellipse cx="558.5" cy="288.3" rx="13.63" ry="8.70" fill="#fff" fill-opacity="0.85"/>
<ellipse cx="490.3" cy="296.5" rx="13.63" ry="8.70" fill="#fff" fill-opacity="0.85"/>
<ellipse cx="664.4" cy="297.6" rx="13.63" ry="8.70" fill="#fff" fill-opacity="0.85"/>
<ellipse cx="687" cy="301.8" rx="13.63" ry="8.70" fill="#fff" fill-opacity="0.85"/>
<ellipse cx="714" cy="300.5" rx="13.63" ry="8.70" fill="#fff" fill-opacity="0.85"/>
<ellipse cx="588.2" cy="304.1" rx="13.63" ry="8.70" fill="#fff" fill-opacity="0.85"/>
<ellipse cx="514.7" cy="312.3" rx="13.63" ry="8.70" fill="#fff" fill-opacity="0.85"/>
<ellipse cx="548.9" cy="315.3" rx="13.63" ry="8.70" fill="#fff" fill-opacity="0.85"/>
<ellipse cx="489.3" cy="324.3" rx="13.63" ry="8.70" fill="#fff" fill-opacity="0.85"/>
<ellipse cx="590.4" cy="328.1" rx="13.63" ry="8.70" fill="#fff" fill-opacity="0.85"/>
<ellipse cx="618.5" cy="328.3" rx="13.63" ry="8.70" fill="#fff" fill-opacity="0.85"/>
<ellipse cx="438.4" cy="330.5" rx="13.63" ry="8.70" fill="#fff" fill-opacity="0.85"/>
<ellipse cx="564" cy="339" rx="13.63" ry="8.70" fill="#fff" fill-opacity="0.85"/>
<ellipse cx="482.2" cy="345.9" rx="13.63" ry="8.70" fill="#fff" fill-opacity="0.85"/>
<ellipse cx="507.9" cy="357.6" rx="13.63" ry="8.70" fill="#fff" fill-opacity="0.85"/>
<ellipse cx="647.9" cy="357.7" rx="13.63" ry="8.70" fill="#fff" fill-opacity="0.85"/>
<ellipse cx="580.5" cy="360.5" rx="13.63" ry="8.70" fill="#fff" fill-opacity="0.85"/>
<ellipse cx="541" cy="363.2" rx="13.63" ry="8.70" fill="#fff" fill-opacity="0.85"/>
<ellipse cx="447.8" cy="372" rx="13.63" ry="8.70" fill="#fff" fill-opacity="0.85"/>
<ellipse cx="478.2" cy="371.3" rx="13.63" ry="8.70" fill="#fff" fill-opacity="0.85"/>
<ellipse cx="615" cy="373.8" rx="13.63" ry="8.70" fill="#fff" fill-opacity="0.85"/>
<ellipse cx="556.5" cy="376.2" rx="13.63" ry="8.70" fill="#fff" fill-opacity="0.85"/>
<ellipse cx="588.7" cy="387.3" rx="13.63" ry="8.70" fill="#fff" fill-opacity="0.85"/>
<ellipse cx="544.7" cy="392.3" rx="13.63" ry="8.70" fill="#fff" fill-opacity="0.85"/>
<ellipse cx="504.3" cy="401.6" rx="13.63" ry="8.70" fill="#fff" fill-opacity="0.85"/>
<ellipse cx="525.3" cy="401.4" rx="13.63" ry="8.70" fill="#fff" fill-opacity="0.85"/>
<ellipse cx="569.8" cy="402" rx="13.63" ry="8.70" fill="#fff" fill-opacity="0.85"/>
<ellipse cx="610" cy="408" rx="13.63" ry="8.70" fill="#fff" fill-opacity="0.85"/>
<ellipse cx="667.7" cy="406.6" rx="13.63" ry="8.70" fill="#fff" fill-opacity="0.85"/>
<ellipse cx="485.1" cy="420.8" rx="13.63" ry="8.70" fill="#fff" fill-opacity="0.85"/>
<ellipse cx="546.5" cy="422.2" rx="13.63" ry="8.70" fill="#fff" fill-opacity="0.85"/>
<ellipse cx="575.3" cy="428.9" rx="13.63" ry="8.70" fill="#fff" fill-opacity="0.85"/>
<ellipse cx="481.2" cy="443.2" rx="13.63" ry="8.70" fill="#fff" fill-opacity="0.85"/>
<ellipse cx="516.7" cy="442.2" rx="13.63" ry="8.70" fill="#fff" fill-opacity="0.85"/>
<ellipse cx="539.6" cy="444.8" rx="13.63" ry="8.70" fill="#fff" fill-opacity="0.85"/>
<ellipse cx="512.2" cy="166.6" rx="9.4" ry="6.0" fill="#a9d68f"/>
<ellipse cx="470.1" cy="182" rx="9.4" ry="6.0" fill="#a9d68f"/>
<ellipse cx="575.6" cy="166.6" rx="9.4" ry="6.0" fill="#a9d68f"/>
<ellipse cx="615.9" cy="175.6" rx="9.4" ry="6.0" fill="#a9d68f"/>
<path transform="translate(615.9,175.6) scale(1,0.65)" d="M-5.77,-10.00 A11.55,11.55 0 0 0 -5.78,10.00" fill="none" stroke="#f6b451" stroke-width="4.2"/>
<ellipse cx="505" cy="204.7" rx="9.4" ry="6.0" fill="#a9d68f"/>
<ellipse cx="538.2" cy="207.5" rx="9.4" ry="6.0" fill="#a9d68f"/>
<ellipse cx="656.4" cy="213.6" rx="9.4" ry="6.0" fill="#a9d68f"/>
<path transform="translate(656.4,213.6) scale(1,0.65)" d="M11.55,-0.00 A11.55,11.55 0 0 0 -5.77,-10.00" fill="none" stroke="#c77dc3" stroke-width="4.2"/>
<ellipse cx="594.2" cy="220" rx="9.4" ry="6.0" fill="#a9d68f"/>
<path transform="translate(594.2,220) scale(1,0.65)" d="M-5.77,-10.00 A11.55,11.55 0 0 0 -5.78,10.00" fill="none" stroke="#f6b451" stroke-width="4.2"/>
<ellipse cx="564.3" cy="228" rx="9.4" ry="6.0" fill="#a9d68f"/>
<path transform="translate(564.3,228) scale(1,0.65)" d="M-5.77,-10.00 A11.55,11.55 0 0 0 -5.78,10.00" fill="none" stroke="#f6b451" stroke-width="4.2"/>
<ellipse cx="469.4" cy="239.5" rx="9.4" ry="6.0" fill="#a9d68f"/>
<path transform="translate(469.4,239.5) scale(1,0.65)" d="M-5.77,-10.00 A11.55,11.55 0 0 0 -5.78,10.00" fill="none" stroke="#f6b451" stroke-width="4.2"/>
<ellipse cx="542.9" cy="241.3" rx="9.4" ry="6.0" fill="#a9d68f"/>
<path transform="translate(542.9,241.3) scale(1,0.65)" d="M-5.77,-10.00 A11.55,11.55 0 0 0 -5.78,10.00" fill="none" stroke="#f6b451" stroke-width="4.2"/>
<ellipse cx="491.9" cy="244.8" rx="9.4" ry="6.0" fill="#a9d68f"/>
<path transform="translate(491.9,244.8) scale(1,0.65)" d="M-5.77,-10.00 A11.55,11.55 0 0 0 -5.78,10.00" fill="none" stroke="#f6b451" stroke-width="4.2"/>
<ellipse cx="585.5" cy="247.9" rx="9.4" ry="6.0" fill="#a9d68f"/>
<path transform="translate(585.5,247.9) scale(1,0.65)" d="M-5.77,-10.00 A11.55,11.55 0 0 0 -5.78,10.00" fill="none" stroke="#f6b451" stroke-width="4.2"/>
<ellipse cx="705.3" cy="246.5" rx="9.4" ry="6.0" fill="#a9d68f"/>
<path transform="translate(705.3,246.5) scale(1,0.65)" d="M11.55,-0.00 A11.55,11.55 0 0 0 -5.77,-10.00" fill="none" stroke="#c77dc3" stroke-width="4.2"/>
<ellipse cx="526" cy="262.4" rx="9.4" ry="6.0" fill="#a9d68f"/>
<path transform="translate(526,262.4) scale(1,0.65)" d="M-5.77,-10.00 A11.55,11.55 0 0 0 -5.78,10.00" fill="none" stroke="#f6b451" stroke-width="4.2"/>
<ellipse cx="552" cy="267.5" rx="9.4" ry="6.0" fill="#a9d68f"/>
<path transform="translate(552,267.5) scale(1,0.65)" d="M11.55,-0.00 A11.55,11.55 0 0 0 -5.77,-10.00" fill="none" stroke="#c77dc3" stroke-width="4.2"/>
<ellipse cx="594.2" cy="265.2" rx="9.4" ry="6.0" fill="#a9d68f"/>
<path transform="translate(594.2,265.2) scale(1,0.65)" d="M-5.77,-10.00 A11.55,11.55 0 0 0 -5.78,10.00" fill="none" stroke="#f6b451" stroke-width="4.2"/>
<ellipse cx="572.6" cy="274.3" rx="9.4" ry="6.0" fill="#a9d68f"/>
<path transform="translate(572.6,274.3) scale(1,0.65)" d="M-5.77,-10.00 A11.55,11.55 0 0 0 -5.78,10.00" fill="none" stroke="#f6b451" stroke-width="4.2"/>
<ellipse cx="678.5" cy="272.7" rx="9.4" ry="6.0" fill="#a9d68f"/>
<path transform="translate(678.5,272.7) scale(1,0.65)" d="M11.55,-0.00 A11.55,11.55 0 0 0 -5.77,-10.00" fill="none" stroke="#c77dc3" stroke-width="4.2"/>
<ellipse cx="609.2" cy="277.6" rx="9.4" ry="6.0" fill="#a9d68f"/>
<path transform="translate(609.2,277.6) scale(1,0.65)" d="M-5.77,-10.00 A11.55,11.55 0 0 0 -5.78,10.00" fill="none" stroke="#f6b451" stroke-width="4.2"/>
<path transform="translate(609.2,277.6) scale(1,0.65)" d="M11.55,-0.00 A11.55,11.55 0 0 0 -5.77,-10.00" fill="none" stroke="#c77dc3" stroke-width="4.2"/>
<ellipse cx="468.7" cy="277.4" rx="9.4" ry="6.0" fill="#a9d68f"/>
<path transform="translate(468.7,277.4) scale(1,0.65)" d="M-5.78,10.00 A11.55,11.55 0 0 0 11.55,0.00" fill="none" stroke="#ea6a60" stroke-width="4.2"/>
<ellipse cx="713" cy="278.6" rx="9.4" ry="6.0" fill="#a9d68f"/>
<path transform="translate(713,278.6) scale(1,0.65)" d="M11.55,-0.00 A11.55,11.55 0 0 0 -5.77,-10.00" fill="none" stroke="#c77dc3" stroke-width="4.2"/>
<ellipse cx="652" cy="279.5" rx="9.4" ry="6.0" fill="#a9d68f"/>
<path transform="translate(652,279.5) scale(1,0.65)" d="M-5.77,-10.00 A11.55,11.55 0 0 0 -5.78,10.00" fill="none" stroke="#f6b451" stroke-width="4.2"/>
<ellipse cx="524.7" cy="285.2" rx="9.4" ry="6.0" fill="#a9d68f"/>
<path transform="translate(524.7,285.2) scale(1,0.65)" d="M11.55,-0.00 A11.55,11.55 0 0 0 -5.77,-10.00" fill="none" stroke="#c77dc3" stroke-width="4.2"/>
<path transform="translate(524.7,285.2) scale(1,0.65)" d="M-5.78,10.00 A11.55,11.55 0 0 0 11.55,0.00" fill="none" stroke="#ea6a60" stroke-width="4.2"/>
<ellipse cx="450" cy="287.4" rx="9.4" ry="6.0" fill="#a9d68f"/>
<path transform="translate(450,287.4) scale(1,0.65)" d="M11.55,-0.00 A11.55,11.55 0 0 0 -5.77,-10.00" fill="none" stroke="#c77dc3" stroke-width="4.2"/>
<ellipse cx="558.5" cy="288.3" rx="9.4" ry="6.0" fill="#a9d68f"/>
<path transform="translate(558.5,288.3) scale(1,0.65)" d="M11.55,-0.00 A11.55,11.55 0 0 0 -5.77,-10.00" fill="none" stroke="#c77dc3" stroke-width="4.2"/>
<ellipse cx="490.3" cy="296.5" rx="9.4" ry="6.0" fill="#a9d68f"/>
<ellipse cx="664.4" cy="297.6" rx="9.4" ry="6.0" fill="#a9d68f"/>
<path transform="translate(664.4,297.6) scale(1,0.65)" d="M11.55,-0.00 A11.55,11.55 0 0 0 -5.77,-10.00" fill="none" stroke="#c77dc3" stroke-width="4.2"/>
<ellipse cx="687" cy="301.8" rx="9.4" ry="6.0" fill="#a9d68f"/>
<path transform="translate(687,301.8) scale(1,0.65)" d="M11.55,-0.00 A11.55,11.55 0 0 0 -5.77,-10.00" fill="none" stroke="#c77dc3" stroke-width="4.2"/>
<ellipse cx="714" cy="300.5" rx="9.4" ry="6.0" fill="#a9d68f"/>
<ellipse cx="588.2" cy="304.1" rx="9.4" ry="6.0" fill="#a9d68f"/>
<path transform="translate(588.2,304.1) scale(1,0.65)" d="M-5.78,10.00 A11.55,11.55 0 0 0 11.55,0.00" fill="none" stroke="#ea6a60" stroke-width="4.2"/>
<ellipse cx="514.7" cy="312.3" rx="9.4" ry="6.0" fill="#a9d68f"/>
<path transform="translate(514.7,312.3) scale(1,0.65)" d="M-5.78,10.00 A11.55,11.55 0 0 0 11.55,0.00" fill="none" stroke="#ea6a60" stroke-width="4.2"/>
<ellipse cx="548.9" cy="315.3" rx="9.4" ry="6.0" fill="#a9d68f"/>
<path transform="translate(548.9,315.3) scale(1,0.65)" d="M-5.78,10.00 A11.55,11.55 0 0 0 11.55,0.00" fill="none" stroke="#ea6a60" stroke-width="4.2"/>
<ellipse cx="489.3" cy="324.3" rx="9.4" ry="6.0" fill="#a9d68f"/>
<path transform="translate(489.3,324.3) scale(1,0.65)" d="M11.55,-0.00 A11.55,11.55 0 0 0 -5.77,-10.00" fill="none" stroke="#c77dc3" stroke-width="4.2"/>
<ellipse cx="590.4" cy="328.1" rx="9.4" ry="6.0" fill="#a9d68f"/>
<path transform="translate(590.4,328.1) scale(1,0.65)" d="M-5.78,10.00 A11.55,11.55 0 0 0 11.55,0.00" fill="none" stroke="#ea6a60" stroke-width="4.2"/>
<ellipse cx="618.5" cy="328.3" rx="9.4" ry="6.0" fill="#a9d68f"/>
<path transform="translate(618.5,328.3) scale(1,0.65)" d="M-5.77,-10.00 A11.55,11.55 0 0 0 -5.78,10.00" fill="none" stroke="#f6b451" stroke-width="4.2"/>
<path transform="translate(618.5,328.3) scale(1,0.65)" d="M11.55,-0.00 A11.55,11.55 0 0 0 -5.77,-10.00" fill="none" stroke="#c77dc3" stroke-width="4.2"/>
<path transform="translate(618.5,328.3) scale(1,0.65)" d="M-5.78,10.00 A11.55,11.55 0 0 0 11.55,0.00" fill="none" stroke="#ea6a60" stroke-width="4.2"/>
<ellipse cx="438.4" cy="330.5" rx="9.4" ry="6.0" fill="#a9d68f"/>
<path transform="translate(438.4,330.5) scale(1,0.65)" d="M-5.77,-10.00 A11.55,11.55 0 0 0 -5.78,10.00" fill="none" stroke="#f6b451" stroke-width="4.2"/>
<ellipse cx="564" cy="339" rx="9.4" ry="6.0" fill="#a9d68f"/>
<path transform="translate(564,339) scale(1,0.65)" d="M11.55,-0.00 A11.55,11.55 0 0 0 -5.77,-10.00" fill="none" stroke="#c77dc3" stroke-width="4.2"/>
<path transform="translate(564,339) scale(1,0.65)" d="M-5.78,10.00 A11.55,11.55 0 0 0 11.55,0.00" fill="none" stroke="#ea6a60" stroke-width="4.2"/>
<ellipse cx="482.2" cy="345.9" rx="9.4" ry="6.0" fill="#a9d68f"/>
<path transform="translate(482.2,345.9) scale(1,0.65)" d="M-5.77,-10.00 A11.55,11.55 0 0 0 -5.78,10.00" fill="none" stroke="#f6b451" stroke-width="4.2"/>
<ellipse cx="507.9" cy="357.6" rx="9.4" ry="6.0" fill="#a9d68f"/>
<path transform="translate(507.9,357.6) scale(1,0.65)" d="M11.55,-0.00 A11.55,11.55 0 0 0 -5.77,-10.00" fill="none" stroke="#c77dc3" stroke-width="4.2"/>
<ellipse cx="647.9" cy="357.7" rx="9.4" ry="6.0" fill="#a9d68f"/>
<path transform="translate(647.9,357.7) scale(1,0.65)" d="M-5.78,10.00 A11.55,11.55 0 0 0 11.55,0.00" fill="none" stroke="#ea6a60" stroke-width="4.2"/>
<ellipse cx="580.5" cy="360.5" rx="9.4" ry="6.0" fill="#a9d68f"/>
<path transform="translate(580.5,360.5) scale(1,0.65)" d="M11.55,-0.00 A11.55,11.55 0 0 0 -5.77,-10.00" fill="none" stroke="#c77dc3" stroke-width="4.2"/>
<path transform="translate(580.5,360.5) scale(1,0.65)" d="M-5.78,10.00 A11.55,11.55 0 0 0 11.55,0.00" fill="none" stroke="#ea6a60" stroke-width="4.2"/>
<ellipse cx="541" cy="363.2" rx="9.4" ry="6.0" fill="#a9d68f"/>
<path transform="translate(541,363.2) scale(1,0.65)" d="M11.55,-0.00 A11.55,11.55 0 0 0 -5.77,-10.00" fill="none" stroke="#c77dc3" stroke-width="4.2"/>
<ellipse cx="447.8" cy="372" rx="9.4" ry="6.0" fill="#a9d68f"/>
<path transform="translate(447.8,372) scale(1,0.65)" d="M-5.77,-10.00 A11.55,11.55 0 0 0 -5.78,10.00" fill="none" stroke="#f6b451" stroke-width="4.2"/>
<ellipse cx="478.2" cy="371.3" rx="9.4" ry="6.0" fill="#a9d68f"/>
<path transform="translate(478.2,371.3) scale(1,0.65)" d="M11.55,-0.00 A11.55,11.55 0 0 0 -5.77,-10.00" fill="none" stroke="#c77dc3" stroke-width="4.2"/>
<ellipse cx="615" cy="373.8" rx="9.4" ry="6.0" fill="#a9d68f"/>
<path transform="translate(615,373.8) scale(1,0.65)" d="M11.55,-0.00 A11.55,11.55 0 0 0 -5.77,-10.00" fill="none" stroke="#c77dc3" stroke-width="4.2"/>
<ellipse cx="556.5" cy="376.2" rx="9.4" ry="6.0" fill="#a9d68f"/>
<path transform="translate(556.5,376.2) scale(1,0.65)" d="M11.55,-0.00 A11.55,11.55 0 0 0 -5.77,-10.00" fill="none" stroke="#c77dc3" stroke-width="4.2"/>
<ellipse cx="588.7" cy="387.3" rx="9.4" ry="6.0" fill="#a9d68f"/>
<path transform="translate(588.7,387.3) scale(1,0.65)" d="M11.55,-0.00 A11.55,11.55 0 0 0 -5.77,-10.00" fill="none" stroke="#c77dc3" stroke-width="4.2"/>
<ellipse cx="544.7" cy="392.3" rx="9.4" ry="6.0" fill="#a9d68f"/>
<path transform="translate(544.7,392.3) scale(1,0.65)" d="M11.55,-0.00 A11.55,11.55 0 0 0 -5.77,-10.00" fill="none" stroke="#c77dc3" stroke-width="4.2"/>
<ellipse cx="504.3" cy="401.6" rx="9.4" ry="6.0" fill="#a9d68f"/>
<path transform="translate(504.3,401.6) scale(1,0.65)" d="M11.55,-0.00 A11.55,11.55 0 0 0 -5.77,-10.00" fill="none" stroke="#c77dc3" stroke-width="4.2"/>
<ellipse cx="525.3" cy="401.4" rx="9.4" ry="6.0" fill="#a9d68f"/>
<path transform="translate(525.3,401.4) scale(1,0.65)" d="M11.55,-0.00 A11.55,11.55 0 0 0 -5.77,-10.00" fill="none" stroke="#c77dc3" stroke-width="4.2"/>
<ellipse cx="569.8" cy="402" rx="9.4" ry="6.0" fill="#a9d68f"/>
<path transform="translate(569.8,402) scale(1,0.65)" d="M11.55,-0.00 A11.55,11.55 0 0 0 -5.77,-10.00" fill="none" stroke="#c77dc3" stroke-width="4.2"/>
<ellipse cx="610" cy="408" rx="9.4" ry="6.0" fill="#a9d68f"/>
<path transform="translate(610,408) scale(1,0.65)" d="M11.55,-0.00 A11.55,11.55 0 0 0 -5.77,-10.00" fill="none" stroke="#c77dc3" stroke-width="4.2"/>
<ellipse cx="667.7" cy="406.6" rx="9.4" ry="6.0" fill="#a9d68f"/>
<path transform="translate(667.7,406.6) scale(1,0.65)" d="M11.55,-0.00 A11.55,11.55 0 0 0 -5.77,-10.00" fill="none" stroke="#c77dc3" stroke-width="4.2"/>
<ellipse cx="485.1" cy="420.8" rx="9.4" ry="6.0" fill="#a9d68f"/>
<path transform="translate(485.1,420.8) scale(1,0.65)" d="M11.55,-0.00 A11.55,11.55 0 0 0 -5.77,-10.00" fill="none" stroke="#c77dc3" stroke-width="4.2"/>
<ellipse cx="546.5" cy="422.2" rx="9.4" ry="6.0" fill="#a9d68f"/>
<path transform="translate(546.5,422.2) scale(1,0.65)" d="M11.55,-0.00 A11.55,11.55 0 0 0 -5.77,-10.00" fill="none" stroke="#c77dc3" stroke-width="4.2"/>
<ellipse cx="575.3" cy="428.9" rx="9.4" ry="6.0" fill="#a9d68f"/>
<path transform="translate(575.3,428.9) scale(1,0.65)" d="M11.55,-0.00 A11.55,11.55 0 0 0 -5.77,-10.00" fill="none" stroke="#c77dc3" stroke-width="4.2"/>
<ellipse cx="481.2" cy="443.2" rx="9.4" ry="6.0" fill="#a9d68f"/>
<path transform="translate(481.2,443.2) scale(1,0.65)" d="M11.55,-0.00 A11.55,11.55 0 0 0 -5.77,-10.00" fill="none" stroke="#c77dc3" stroke-width="4.2"/>
<ellipse cx="516.7" cy="442.2" rx="9.4" ry="6.0" fill="#a9d68f"/>
<path transform="translate(516.7,442.2) scale(1,0.65)" d="M11.55,-0.00 A11.55,11.55 0 0 0 -5.77,-10.00" fill="none" stroke="#c77dc3" stroke-width="4.2"/>
<ellipse cx="539.6" cy="444.8" rx="9.4" ry="6.0" fill="#a9d68f"/>
<path transform="translate(539.6,444.8) scale(1,0.65)" d="M11.55,-0.00 A11.55,11.55 0 0 0 -5.77,-10.00" fill="none" stroke="#c77dc3" stroke-width="4.2"/>
<g font-size="6.6" font-weight="bold" text-anchor="middle" fill="#1b2415" stroke="#ffffff" stroke-opacity="0.55" stroke-width="0.7" paint-order="stroke" letter-spacing="0.15">
<text x="512.2" y="169.0">JUNB</text>
<text x="470.1" y="184.4">FOSL2</text>
<text x="575.6" y="169.0">SP6</text>
<text x="615.9" y="178.0">TCF7</text>
<text x="505" y="207.1">NR4A1</text>
<text x="538.2" y="209.9">SMAD7</text>
<text x="656.4" y="216.0">AGPAT3</text>
<text x="594.2" y="222.4">SMURF2</text>
<text x="564.3" y="230.4">GNG4</text>
<text x="469.4" y="241.9">TNRC6C</text>
<text x="542.9" y="243.7">GNG10</text>
<text x="491.9" y="247.2">AGO2</text>
<text x="585.5" y="250.3">GNG12</text>
<text x="705.3" y="248.9">BICD2</text>
<text x="526" y="264.8">MAP3K7</text>
<text x="552" y="269.9">PRKAB2</text>
<text x="594.2" y="267.6">FZD5</text>
<text x="572.6" y="276.7">GNB4</text>
<text x="678.5" y="275.1">KIF3A</text>
<text x="609.2" y="280.0">FZD4</text>
<text x="468.7" y="279.8">VAV2</text>
<text x="713" y="281.0">KIF3C</text>
<text x="652" y="281.9">ROR1</text>
<text x="524.7" y="287.6">SRC</text>
<text x="450" y="289.8">HSP90B1</text>
<text x="558.5" y="290.7">PRKAA2</text>
<text x="490.3" y="298.9">SHB</text>
<text x="664.4" y="300.0">KIF5B</text>
<text x="687" y="304.2">KIF16B</text>
<text x="714" y="302.9">DYNC2LI1</text>
<text x="588.2" y="306.5">EPHB2</text>
<text x="514.7" y="314.7">YES1</text>
<text x="548.9" y="317.7">ROCK2</text>
<text x="489.3" y="326.7">HSP90AA1</text>
<text x="590.4" y="330.5">MYH10</text>
<text x="618.5" y="330.7">AP2M1</text>
<text x="438.4" y="332.9">PSMA3</text>
<text x="564" y="341.4">DNM1</text>
<text x="482.2" y="348.3">PSMA2</text>
<text x="507.9" y="360.0">SPTBN2</text>
<text x="647.9" y="360.1">APH1B</text>
<text x="580.5" y="362.9">CLTCL1</text>
<text x="541" y="365.6">PLIN3</text>
<text x="447.8" y="374.4">PSMD12</text>
<text x="478.2" y="373.7">CD59</text>
<text x="615" y="376.2">AP1G1</text>
<text x="556.5" y="378.6">EXOC6</text>
<text x="588.7" y="389.7">PICALM</text>
<text x="544.7" y="394.7">STX6</text>
<text x="504.3" y="404.0">BET</text>
<text x="525.3" y="403.8">NSF</text>
<text x="569.8" y="404.4">GCC2</text>
<text x="610" y="410.4">CHMP4C</text>
<text x="667.7" y="409.0">VPS36</text>
<text x="485.1" y="423.2">SEC24A</text>
<text x="546.5" y="424.6">VPS54</text>
<text x="575.3" y="431.3">VAMP7</text>
<text x="481.2" y="445.6">CYTH1</text>
<text x="516.7" y="444.6">GOSR</text>
<text x="539.6" y="447.2">NAPG</text>
</g>
<line x1="446.00" y1="464.00" x2="460.00" y2="464.00" stroke="#c77dc3" stroke-width="3" />
<text x="467.30" y="468.30" font-size="12.55" text-anchor="start" fill="#222" >Vesicle-mediated transport</text>
<line x1="446.00" y1="480.70" x2="460.00" y2="480.70" stroke="#f6b451" stroke-width="3" />
<text x="467.30" y="485.00" font-size="12.55" text-anchor="start" fill="#222" >WNT signaling</text>
<line x1="446.00" y1="497.30" x2="460.00" y2="497.30" stroke="#ea6a60" stroke-width="3" />
<text x="467.30" y="501.70" font-size="12.55" text-anchor="start" fill="#222" >EPH-Ephrin signaling</text>
<line x1="46.30" y1="622.90" x2="46.30" y2="616.36" stroke="#555" stroke-width="1.0" />
<line x1="44.20" y1="616.36" x2="48.40" y2="616.36" stroke="#555" stroke-width="1.0" />
<rect x="43.10" y="622.90" width="6.40" height="65.40" fill="#0d0b0a" />
<rect x="52.40" y="652.33" width="6.90" height="35.97" fill="#a9a9a9" stroke="#888" stroke-width="0.8"/>
<line x1="55.85" y1="648.41" x2="55.85" y2="656.25" stroke="#5a5a5a" stroke-width="0.9" />
<line x1="53.75" y1="648.41" x2="57.95" y2="648.41" stroke="#5a5a5a" stroke-width="0.9" />
<line x1="53.75" y1="656.25" x2="57.95" y2="656.25" stroke="#5a5a5a" stroke-width="0.9" />
<line x1="51.20" y1="688.30" x2="51.20" y2="691.50" stroke="#111" stroke-width="1.1" />
<text x="0" y="0" transform="translate(54.30,692.50) rotate(-90)" font-size="11" text-anchor="end" fill="#1a1a1a" >GNG4</text>
<line x1="45.60" y1="607.10" x2="56.20" y2="607.10" stroke="#3a3a3a" stroke-width="0.9" />
<text x="50.90" y="606.35" font-size="10" text-anchor="middle" fill="#222" stroke="#222" stroke-width="0.12">*</text>
<line x1="72.84" y1="622.90" x2="72.84" y2="618.98" stroke="#555" stroke-width="1.0" />
<line x1="70.74" y1="618.98" x2="74.94" y2="618.98" stroke="#555" stroke-width="1.0" />
<rect x="69.64" y="622.90" width="6.40" height="65.40" fill="#0d0b0a" />
<rect x="78.94" y="653.64" width="6.90" height="34.66" fill="#a9a9a9" stroke="#888" stroke-width="0.8"/>
<line x1="82.39" y1="651.02" x2="82.39" y2="656.25" stroke="#5a5a5a" stroke-width="0.9" />
<line x1="80.29" y1="651.02" x2="84.49" y2="651.02" stroke="#5a5a5a" stroke-width="0.9" />
<line x1="80.29" y1="656.25" x2="84.49" y2="656.25" stroke="#5a5a5a" stroke-width="0.9" />
<line x1="77.74" y1="688.30" x2="77.74" y2="691.50" stroke="#111" stroke-width="1.1" />
<text x="0" y="0" transform="translate(80.84,692.50) rotate(-90)" font-size="11" text-anchor="end" fill="#1a1a1a" >SFRP1</text>
<line x1="72.14" y1="607.10" x2="82.74" y2="607.10" stroke="#3a3a3a" stroke-width="0.9" />
<text x="77.44" y="606.35" font-size="10" text-anchor="middle" fill="#222" stroke="#222" stroke-width="0.12">**</text>
<line x1="99.38" y1="622.90" x2="99.38" y2="619.63" stroke="#555" stroke-width="1.0" />
<line x1="97.28" y1="619.63" x2="101.48" y2="619.63" stroke="#555" stroke-width="1.0" />
<rect x="96.18" y="622.90" width="6.40" height="65.40" fill="#0d0b0a" />
<rect x="105.48" y="641.87" width="6.90" height="46.43" fill="#a9a9a9" stroke="#888" stroke-width="0.8"/>
<line x1="108.93" y1="638.60" x2="108.93" y2="645.14" stroke="#5a5a5a" stroke-width="0.9" />
<line x1="106.83" y1="638.60" x2="111.03" y2="638.60" stroke="#5a5a5a" stroke-width="0.9" />
<line x1="106.83" y1="645.14" x2="111.03" y2="645.14" stroke="#5a5a5a" stroke-width="0.9" />
<line x1="104.28" y1="688.30" x2="104.28" y2="691.50" stroke="#111" stroke-width="1.1" />
<text x="0" y="0" transform="translate(107.38,692.50) rotate(-90)" font-size="11" text-anchor="end" fill="#1a1a1a" >SMURF2</text>
<line x1="98.68" y1="607.10" x2="109.28" y2="607.10" stroke="#3a3a3a" stroke-width="0.9" />
<text x="103.98" y="606.35" font-size="10" text-anchor="middle" fill="#222" stroke="#222" stroke-width="0.12">*</text>
<line x1="125.92" y1="622.90" x2="125.92" y2="618.98" stroke="#555" stroke-width="1.0" />
<line x1="123.82" y1="618.98" x2="128.02" y2="618.98" stroke="#555" stroke-width="1.0" />
<rect x="122.72" y="622.90" width="6.40" height="65.40" fill="#0d0b0a" />
<rect x="132.02" y="646.44" width="6.90" height="41.86" fill="#a9a9a9" stroke="#888" stroke-width="0.8"/>
<line x1="135.47" y1="642.52" x2="135.47" y2="650.37" stroke="#5a5a5a" stroke-width="0.9" />
<line x1="133.37" y1="642.52" x2="137.57" y2="642.52" stroke="#5a5a5a" stroke-width="0.9" />
<line x1="133.37" y1="650.37" x2="137.57" y2="650.37" stroke="#5a5a5a" stroke-width="0.9" />
<line x1="130.82" y1="688.30" x2="130.82" y2="691.50" stroke="#111" stroke-width="1.1" />
<text x="0" y="0" transform="translate(133.92,692.50) rotate(-90)" font-size="11" text-anchor="end" fill="#1a1a1a" >TNRC6C</text>
<line x1="125.22" y1="607.10" x2="135.82" y2="607.10" stroke="#3a3a3a" stroke-width="0.9" />
<text x="130.52" y="606.35" font-size="10" text-anchor="middle" fill="#222" stroke="#222" stroke-width="0.12">*</text>
<line x1="152.46" y1="622.90" x2="152.46" y2="617.01" stroke="#555" stroke-width="1.0" />
<line x1="150.36" y1="617.01" x2="154.56" y2="617.01" stroke="#555" stroke-width="1.0" />
<rect x="149.26" y="622.90" width="6.40" height="65.40" fill="#0d0b0a" />
<rect x="158.56" y="656.91" width="6.90" height="31.39" fill="#a9a9a9" stroke="#888" stroke-width="0.8"/>
<line x1="162.01" y1="651.68" x2="162.01" y2="662.14" stroke="#5a5a5a" stroke-width="0.9" />
<line x1="159.91" y1="651.68" x2="164.11" y2="651.68" stroke="#5a5a5a" stroke-width="0.9" />
<line x1="159.91" y1="662.14" x2="164.11" y2="662.14" stroke="#5a5a5a" stroke-width="0.9" />
<line x1="157.36" y1="688.30" x2="157.36" y2="691.50" stroke="#111" stroke-width="1.1" />
<text x="0" y="0" transform="translate(160.46,692.50) rotate(-90)" font-size="11" text-anchor="end" fill="#1a1a1a" >ROR1</text>
<line x1="151.76" y1="606.50" x2="162.36" y2="606.50" stroke="#3a3a3a" stroke-width="0.9" />
<text x="157.06" y="605.75" font-size="10" text-anchor="middle" fill="#222" stroke="#222" stroke-width="0.12">*</text>
<line x1="179.00" y1="622.90" x2="179.00" y2="617.67" stroke="#555" stroke-width="1.0" />
<line x1="176.90" y1="617.67" x2="181.10" y2="617.67" stroke="#555" stroke-width="1.0" />
<rect x="175.80" y="622.90" width="6.40" height="65.40" fill="#0d0b0a" />
<rect x="185.10" y="653.64" width="6.90" height="34.66" fill="#a9a9a9" stroke="#888" stroke-width="0.8"/>
<line x1="188.55" y1="650.37" x2="188.55" y2="656.91" stroke="#5a5a5a" stroke-width="0.9" />
<line x1="186.45" y1="650.37" x2="190.65" y2="650.37" stroke="#5a5a5a" stroke-width="0.9" />
<line x1="186.45" y1="656.91" x2="190.65" y2="656.91" stroke="#5a5a5a" stroke-width="0.9" />
<line x1="183.90" y1="688.30" x2="183.90" y2="691.50" stroke="#111" stroke-width="1.1" />
<text x="0" y="0" transform="translate(187.00,692.50) rotate(-90)" font-size="11" text-anchor="end" fill="#1a1a1a" >EPHB2</text>
<line x1="178.30" y1="607.10" x2="188.90" y2="607.10" stroke="#3a3a3a" stroke-width="0.9" />
<text x="183.60" y="606.35" font-size="10" text-anchor="middle" fill="#222" stroke="#222" stroke-width="0.12">**</text>
<line x1="205.54" y1="622.90" x2="205.54" y2="617.01" stroke="#555" stroke-width="1.0" />
<line x1="203.44" y1="617.01" x2="207.64" y2="617.01" stroke="#555" stroke-width="1.0" />
<rect x="202.34" y="622.90" width="6.40" height="65.40" fill="#0d0b0a" />
<rect x="211.64" y="652.33" width="6.90" height="35.97" fill="#a9a9a9" stroke="#888" stroke-width="0.8"/>
<line x1="215.09" y1="647.10" x2="215.09" y2="657.56" stroke="#5a5a5a" stroke-width="0.9" />
<line x1="212.99" y1="647.10" x2="217.19" y2="647.10" stroke="#5a5a5a" stroke-width="0.9" />
<line x1="212.99" y1="657.56" x2="217.19" y2="657.56" stroke="#5a5a5a" stroke-width="0.9" />
<line x1="210.44" y1="688.30" x2="210.44" y2="691.50" stroke="#111" stroke-width="1.1" />
<text x="0" y="0" transform="translate(213.54,692.50) rotate(-90)" font-size="11" text-anchor="end" fill="#1a1a1a" >ROCK2</text>
<line x1="204.84" y1="607.10" x2="215.44" y2="607.10" stroke="#3a3a3a" stroke-width="0.9" />
<text x="210.14" y="606.35" font-size="10" text-anchor="middle" fill="#222" stroke="#222" stroke-width="0.12">*</text>
<line x1="232.08" y1="622.90" x2="232.08" y2="618.98" stroke="#555" stroke-width="1.0" />
<line x1="229.98" y1="618.98" x2="234.18" y2="618.98" stroke="#555" stroke-width="1.0" />
<rect x="228.88" y="622.90" width="6.40" height="65.40" fill="#0d0b0a" />
<rect x="238.18" y="653.64" width="6.90" height="34.66" fill="#a9a9a9" stroke="#888" stroke-width="0.8"/>
<line x1="241.63" y1="649.06" x2="241.63" y2="658.22" stroke="#5a5a5a" stroke-width="0.9" />
<line x1="239.53" y1="649.06" x2="243.73" y2="649.06" stroke="#5a5a5a" stroke-width="0.9" />
<line x1="239.53" y1="658.22" x2="243.73" y2="658.22" stroke="#5a5a5a" stroke-width="0.9" />
<line x1="236.98" y1="688.30" x2="236.98" y2="691.50" stroke="#111" stroke-width="1.1" />
<text x="0" y="0" transform="translate(240.08,692.50) rotate(-90)" font-size="11" text-anchor="end" fill="#1a1a1a" >CLTCL1</text>
<line x1="231.38" y1="607.10" x2="241.98" y2="607.10" stroke="#3a3a3a" stroke-width="0.9" />
<text x="236.68" y="606.35" font-size="10" text-anchor="middle" fill="#222" stroke="#222" stroke-width="0.12">**</text>
<line x1="258.62" y1="622.90" x2="258.62" y2="619.63" stroke="#555" stroke-width="1.0" />
<line x1="256.52" y1="619.63" x2="260.72" y2="619.63" stroke="#555" stroke-width="1.0" />
<rect x="255.42" y="622.90" width="6.40" height="65.40" fill="#0d0b0a" />
<rect x="264.72" y="650.37" width="6.90" height="37.93" fill="#a9a9a9" stroke="#888" stroke-width="0.8"/>
<line x1="268.17" y1="645.14" x2="268.17" y2="655.60" stroke="#5a5a5a" stroke-width="0.9" />
<line x1="266.07" y1="645.14" x2="270.27" y2="645.14" stroke="#5a5a5a" stroke-width="0.9" />
<line x1="266.07" y1="655.60" x2="270.27" y2="655.60" stroke="#5a5a5a" stroke-width="0.9" />
<line x1="263.52" y1="688.30" x2="263.52" y2="691.50" stroke="#111" stroke-width="1.1" />
<text x="0" y="0" transform="translate(266.62,692.50) rotate(-90)" font-size="11" text-anchor="end" fill="#1a1a1a" >RBSN</text>
<line x1="257.92" y1="607.10" x2="268.52" y2="607.10" stroke="#3a3a3a" stroke-width="0.9" />
<text x="263.22" y="606.35" font-size="10" text-anchor="middle" fill="#222" stroke="#222" stroke-width="0.12">**</text>
<line x1="285.16" y1="622.90" x2="285.16" y2="615.71" stroke="#555" stroke-width="1.0" />
<line x1="283.06" y1="615.71" x2="287.26" y2="615.71" stroke="#555" stroke-width="1.0" />
<rect x="281.96" y="622.90" width="6.40" height="65.40" fill="#0d0b0a" />
<rect x="291.26" y="645.79" width="6.90" height="42.51" fill="#a9a9a9" stroke="#888" stroke-width="0.8"/>
<line x1="294.71" y1="637.94" x2="294.71" y2="653.64" stroke="#5a5a5a" stroke-width="0.9" />
<line x1="292.61" y1="637.94" x2="296.81" y2="637.94" stroke="#5a5a5a" stroke-width="0.9" />
<line x1="292.61" y1="653.64" x2="296.81" y2="653.64" stroke="#5a5a5a" stroke-width="0.9" />
<line x1="290.06" y1="688.30" x2="290.06" y2="691.50" stroke="#111" stroke-width="1.1" />
<text x="0" y="0" transform="translate(293.16,692.50) rotate(-90)" font-size="11" text-anchor="end" fill="#1a1a1a" >SYT12</text>
<line x1="311.70" y1="622.90" x2="311.70" y2="616.36" stroke="#555" stroke-width="1.0" />
<line x1="309.60" y1="616.36" x2="313.80" y2="616.36" stroke="#555" stroke-width="1.0" />
<rect x="308.50" y="622.90" width="6.40" height="65.40" fill="#0d0b0a" />
<rect x="317.80" y="648.41" width="6.90" height="39.89" fill="#a9a9a9" stroke="#888" stroke-width="0.8"/>
<line x1="321.25" y1="643.17" x2="321.25" y2="653.64" stroke="#5a5a5a" stroke-width="0.9" />
<line x1="319.15" y1="643.17" x2="323.35" y2="643.17" stroke="#5a5a5a" stroke-width="0.9" />
<line x1="319.15" y1="653.64" x2="323.35" y2="653.64" stroke="#5a5a5a" stroke-width="0.9" />
<line x1="316.60" y1="688.30" x2="316.60" y2="691.50" stroke="#111" stroke-width="1.1" />
<text x="0" y="0" transform="translate(319.70,692.50) rotate(-90)" font-size="11" text-anchor="end" fill="#1a1a1a" >SYT13</text>
<line x1="311.00" y1="607.10" x2="321.60" y2="607.10" stroke="#3a3a3a" stroke-width="0.9" />
<text x="316.30" y="606.35" font-size="10" text-anchor="middle" fill="#222" stroke="#222" stroke-width="0.12">*</text>
<line x1="37.50" y1="589.70" x2="37.50" y2="688.80" stroke="#111" stroke-width="1.1" />
<line x1="37.00" y1="688.30" x2="330.60" y2="688.30" stroke="#111" stroke-width="1.1" />
<line x1="36.20" y1="688.30" x2="37.50" y2="688.30" stroke="#111" stroke-width="1.1" />
<text x="32.00" y="692.00" font-size="10.4" text-anchor="end" fill="#1a1a1a" >0.0</text>
<line x1="36.20" y1="655.60" x2="37.50" y2="655.60" stroke="#111" stroke-width="1.1" />
<text x="32.00" y="659.30" font-size="10.4" text-anchor="end" fill="#1a1a1a" >0.5</text>
<line x1="36.20" y1="622.90" x2="37.50" y2="622.90" stroke="#111" stroke-width="1.1" />
<text x="32.00" y="626.60" font-size="10.4" text-anchor="end" fill="#1a1a1a" >1.0</text>
<line x1="36.20" y1="590.20" x2="37.50" y2="590.20" stroke="#111" stroke-width="1.1" />
<text x="32.00" y="593.90" font-size="10.4" text-anchor="end" fill="#1a1a1a" >1.5</text>
<text x="0" y="0" transform="translate(13.80,638.80) rotate(-90)" font-size="11" text-anchor="middle" fill="#1a1a1a" >Relative expression</text>
<text x="180.80" y="561.00" font-size="16.8" text-anchor="start" fill="#1a1a1a" >A549</text>
<rect x="275.30" y="569.30" width="6.80" height="6.80" fill="#0d0b0a" />
<rect x="275.70" y="582.00" width="6.00" height="6.00" fill="#a9a9a9" stroke="#888" stroke-width="0.8"/>
<text x="287.60" y="575.30" font-size="10.85" text-anchor="start" fill="#1a1a1a" >siCtrl</text>
<text x="287.60" y="587.30" font-size="10.85" text-anchor="start" fill="#1a1a1a" >siTAZ-AS202 #1</text>
<line x1="39.80" y1="743.30" x2="162.70" y2="743.30" stroke="#333" stroke-width="0.8" />
<text x="102.30" y="756.80" font-size="11" text-anchor="middle" fill="#1a1a1a" >WNT signaling</text>
<line x1="169.20" y1="739.30" x2="243.10" y2="739.30" stroke="#333" stroke-width="0.8" />
<text x="202.30" y="758.50" font-size="11" text-anchor="middle" fill="#1a1a1a" >Ephrin signaling</text>
<line x1="229.70" y1="733.90" x2="327.10" y2="733.90" stroke="#333" stroke-width="0.8" />
<text x="289.00" y="759.30" font-size="11" text-anchor="middle" fill="#1a1a1a" >Vesicle-mediated</text>
<text x="290.20" y="772.80" font-size="11" text-anchor="middle" fill="#1a1a1a" >transport</text>
<line x1="444.75" y1="623.93" x2="444.75" y2="614.23" stroke="#0d0b0a" stroke-width="1.2" />
<line x1="442.65" y1="614.23" x2="446.85" y2="614.23" stroke="#0d0b0a" stroke-width="1.2" />
<rect x="441.60" y="623.93" width="6.30" height="64.67" fill="#0d0b0a" />
<rect x="451.60" y="661.44" width="6.10" height="27.16" fill="#8a8a8a" stroke="#333" stroke-width="1.0"/>
<line x1="454.65" y1="659.50" x2="454.65" y2="663.38" stroke="#222" stroke-width="0.9" />
<line x1="452.55" y1="659.50" x2="456.75" y2="659.50" stroke="#222" stroke-width="0.9" />
<line x1="452.55" y1="663.38" x2="456.75" y2="663.38" stroke="#222" stroke-width="0.9" />
<line x1="449.65" y1="688.60" x2="449.65" y2="691.80" stroke="#111" stroke-width="1.1" />
<text x="0" y="0" transform="translate(453.45,695.40) rotate(-90)" font-size="11" text-anchor="end" fill="#1a1a1a" >GNG4</text>
<line x1="444.10" y1="607.70" x2="455.40" y2="607.70" stroke="#333" stroke-width="0.9" />
<text x="449.75" y="606.30" font-size="10" text-anchor="middle" fill="#222" stroke="#222" stroke-width="0.12">*</text>
<line x1="470.85" y1="623.93" x2="470.85" y2="615.52" stroke="#0d0b0a" stroke-width="1.2" />
<line x1="468.75" y1="615.52" x2="472.95" y2="615.52" stroke="#0d0b0a" stroke-width="1.2" />
<rect x="467.70" y="623.93" width="6.30" height="64.67" fill="#0d0b0a" />
<rect x="477.70" y="658.21" width="6.10" height="30.39" fill="#8a8a8a" stroke="#333" stroke-width="1.0"/>
<line x1="480.75" y1="656.26" x2="480.75" y2="660.15" stroke="#222" stroke-width="0.9" />
<line x1="478.65" y1="656.26" x2="482.85" y2="656.26" stroke="#222" stroke-width="0.9" />
<line x1="478.65" y1="660.15" x2="482.85" y2="660.15" stroke="#222" stroke-width="0.9" />
<line x1="475.75" y1="688.60" x2="475.75" y2="691.80" stroke="#111" stroke-width="1.1" />
<text x="0" y="0" transform="translate(479.55,695.40) rotate(-90)" font-size="11" text-anchor="end" fill="#1a1a1a" >SFRP1</text>
<line x1="470.20" y1="607.70" x2="481.50" y2="607.70" stroke="#333" stroke-width="0.9" />
<text x="475.85" y="606.30" font-size="10" text-anchor="middle" fill="#222" stroke="#222" stroke-width="0.12">*</text>
<line x1="496.95" y1="623.93" x2="496.95" y2="615.52" stroke="#0d0b0a" stroke-width="1.2" />
<line x1="494.85" y1="615.52" x2="499.05" y2="615.52" stroke="#0d0b0a" stroke-width="1.2" />
<rect x="493.80" y="623.93" width="6.30" height="64.67" fill="#0d0b0a" />
<rect x="503.80" y="654.32" width="6.10" height="34.28" fill="#8a8a8a" stroke="#333" stroke-width="1.0"/>
<line x1="506.85" y1="652.38" x2="506.85" y2="656.27" stroke="#222" stroke-width="0.9" />
<line x1="504.75" y1="652.38" x2="508.95" y2="652.38" stroke="#222" stroke-width="0.9" />
<line x1="504.75" y1="656.27" x2="508.95" y2="656.27" stroke="#222" stroke-width="0.9" />
<line x1="501.85" y1="688.60" x2="501.85" y2="691.80" stroke="#111" stroke-width="1.1" />
<text x="0" y="0" transform="translate(505.65,695.40) rotate(-90)" font-size="11" text-anchor="end" fill="#1a1a1a" >SMURF2</text>
<line x1="496.30" y1="607.70" x2="507.60" y2="607.70" stroke="#333" stroke-width="0.9" />
<text x="501.95" y="606.30" font-size="10" text-anchor="middle" fill="#222" stroke="#222" stroke-width="0.12">*</text>
<line x1="523.05" y1="623.93" x2="523.05" y2="615.52" stroke="#0d0b0a" stroke-width="1.2" />
<line x1="520.95" y1="615.52" x2="525.15" y2="615.52" stroke="#0d0b0a" stroke-width="1.2" />
<rect x="519.90" y="623.93" width="6.30" height="64.67" fill="#0d0b0a" />
<rect x="529.90" y="662.09" width="6.10" height="26.51" fill="#8a8a8a" stroke="#333" stroke-width="1.0"/>
<line x1="532.95" y1="660.15" x2="532.95" y2="664.03" stroke="#222" stroke-width="0.9" />
<line x1="530.85" y1="660.15" x2="535.05" y2="660.15" stroke="#222" stroke-width="0.9" />
<line x1="530.85" y1="664.03" x2="535.05" y2="664.03" stroke="#222" stroke-width="0.9" />
<line x1="527.95" y1="688.60" x2="527.95" y2="691.80" stroke="#111" stroke-width="1.1" />
<text x="0" y="0" transform="translate(531.75,695.40) rotate(-90)" font-size="11" text-anchor="end" fill="#1a1a1a" >TNRC6C</text>
<line x1="522.40" y1="607.70" x2="533.70" y2="607.70" stroke="#333" stroke-width="0.9" />
<text x="528.05" y="606.30" font-size="10" text-anchor="middle" fill="#222" stroke="#222" stroke-width="0.12">*</text>
<line x1="549.15" y1="623.93" x2="549.15" y2="615.52" stroke="#0d0b0a" stroke-width="1.2" />
<line x1="547.05" y1="615.52" x2="551.25" y2="615.52" stroke="#0d0b0a" stroke-width="1.2" />
<rect x="546.00" y="623.93" width="6.30" height="64.67" fill="#0d0b0a" />
<rect x="556.00" y="656.26" width="6.10" height="32.34" fill="#8a8a8a" stroke="#333" stroke-width="1.0"/>
<line x1="559.05" y1="653.68" x2="559.05" y2="658.85" stroke="#222" stroke-width="0.9" />
<line x1="556.95" y1="653.68" x2="561.15" y2="653.68" stroke="#222" stroke-width="0.9" />
<line x1="556.95" y1="658.85" x2="561.15" y2="658.85" stroke="#222" stroke-width="0.9" />
<line x1="554.05" y1="688.60" x2="554.05" y2="691.80" stroke="#111" stroke-width="1.1" />
<text x="0" y="0" transform="translate(557.85,695.40) rotate(-90)" font-size="11" text-anchor="end" fill="#1a1a1a" >ROR1</text>
<line x1="548.50" y1="607.70" x2="559.80" y2="607.70" stroke="#333" stroke-width="0.9" />
<text x="554.15" y="606.30" font-size="10" text-anchor="middle" fill="#222" stroke="#222" stroke-width="0.12">*</text>
<line x1="575.25" y1="623.93" x2="575.25" y2="621.99" stroke="#0d0b0a" stroke-width="1.2" />
<line x1="573.15" y1="621.99" x2="577.35" y2="621.99" stroke="#0d0b0a" stroke-width="1.2" />
<rect x="572.10" y="623.93" width="6.30" height="64.67" fill="#0d0b0a" />
<rect x="582.10" y="653.03" width="6.10" height="35.57" fill="#8a8a8a" stroke="#333" stroke-width="1.0"/>
<line x1="585.15" y1="651.74" x2="585.15" y2="654.32" stroke="#222" stroke-width="0.9" />
<line x1="583.05" y1="651.74" x2="587.25" y2="651.74" stroke="#222" stroke-width="0.9" />
<line x1="583.05" y1="654.32" x2="587.25" y2="654.32" stroke="#222" stroke-width="0.9" />
<line x1="580.15" y1="688.60" x2="580.15" y2="691.80" stroke="#111" stroke-width="1.1" />
<text x="0" y="0" transform="translate(583.95,695.40) rotate(-90)" font-size="11" text-anchor="end" fill="#1a1a1a" >EPHB2</text>
<line x1="574.60" y1="607.70" x2="585.90" y2="607.70" stroke="#333" stroke-width="0.9" />
<text x="580.25" y="606.30" font-size="10" text-anchor="middle" fill="#222" stroke="#222" stroke-width="0.12">***</text>
<line x1="601.35" y1="623.93" x2="601.35" y2="618.11" stroke="#0d0b0a" stroke-width="1.2" />
<line x1="599.25" y1="618.11" x2="603.45" y2="618.11" stroke="#0d0b0a" stroke-width="1.2" />
<rect x="598.20" y="623.93" width="6.30" height="64.67" fill="#0d0b0a" />
<rect x="608.20" y="663.38" width="6.10" height="25.22" fill="#8a8a8a" stroke="#333" stroke-width="1.0"/>
<line x1="611.25" y1="662.09" x2="611.25" y2="664.67" stroke="#222" stroke-width="0.9" />
<line x1="609.15" y1="662.09" x2="613.35" y2="662.09" stroke="#222" stroke-width="0.9" />
<line x1="609.15" y1="664.67" x2="613.35" y2="664.67" stroke="#222" stroke-width="0.9" />
<line x1="606.25" y1="688.60" x2="606.25" y2="691.80" stroke="#111" stroke-width="1.1" />
<text x="0" y="0" transform="translate(610.05,695.40) rotate(-90)" font-size="11" text-anchor="end" fill="#1a1a1a" >ROCK2</text>
<line x1="600.70" y1="607.70" x2="612.00" y2="607.70" stroke="#333" stroke-width="0.9" />
<text x="606.35" y="606.30" font-size="10" text-anchor="middle" fill="#222" stroke="#222" stroke-width="0.12">**</text>
<line x1="627.45" y1="623.93" x2="627.45" y2="619.40" stroke="#0d0b0a" stroke-width="1.2" />
<line x1="625.35" y1="619.40" x2="629.55" y2="619.40" stroke="#0d0b0a" stroke-width="1.2" />
<rect x="624.30" y="623.93" width="6.30" height="64.67" fill="#0d0b0a" />
<rect x="634.30" y="652.38" width="6.10" height="36.22" fill="#8a8a8a" stroke="#333" stroke-width="1.0"/>
<line x1="637.35" y1="649.80" x2="637.35" y2="654.97" stroke="#222" stroke-width="0.9" />
<line x1="635.25" y1="649.80" x2="639.45" y2="649.80" stroke="#222" stroke-width="0.9" />
<line x1="635.25" y1="654.97" x2="639.45" y2="654.97" stroke="#222" stroke-width="0.9" />
<line x1="632.35" y1="688.60" x2="632.35" y2="691.80" stroke="#111" stroke-width="1.1" />
<text x="0" y="0" transform="translate(636.15,695.40) rotate(-90)" font-size="11" text-anchor="end" fill="#1a1a1a" >CLTCL1</text>
<line x1="626.80" y1="607.70" x2="638.10" y2="607.70" stroke="#333" stroke-width="0.9" />
<text x="632.45" y="606.30" font-size="10" text-anchor="middle" fill="#222" stroke="#222" stroke-width="0.12">**</text>
<line x1="653.55" y1="623.93" x2="653.55" y2="615.52" stroke="#0d0b0a" stroke-width="1.2" />
<line x1="651.45" y1="615.52" x2="655.65" y2="615.52" stroke="#0d0b0a" stroke-width="1.2" />
<rect x="650.40" y="623.93" width="6.30" height="64.67" fill="#0d0b0a" />
<rect x="660.40" y="654.97" width="6.10" height="33.63" fill="#8a8a8a" stroke="#333" stroke-width="1.0"/>
<line x1="663.45" y1="651.74" x2="663.45" y2="658.21" stroke="#222" stroke-width="0.9" />
<line x1="661.35" y1="651.74" x2="665.55" y2="651.74" stroke="#222" stroke-width="0.9" />
<line x1="661.35" y1="658.21" x2="665.55" y2="658.21" stroke="#222" stroke-width="0.9" />
<line x1="658.45" y1="688.60" x2="658.45" y2="691.80" stroke="#111" stroke-width="1.1" />
<text x="0" y="0" transform="translate(662.25,695.40) rotate(-90)" font-size="11" text-anchor="end" fill="#1a1a1a" >RBSN</text>
<line x1="652.90" y1="607.70" x2="664.20" y2="607.70" stroke="#333" stroke-width="0.9" />
<text x="658.55" y="606.30" font-size="10" text-anchor="middle" fill="#222" stroke="#222" stroke-width="0.12">*</text>
<line x1="435.60" y1="591.10" x2="435.60" y2="689.10" stroke="#111" stroke-width="1.1" />
<line x1="435.10" y1="688.60" x2="672.20" y2="688.60" stroke="#111" stroke-width="1.1" />
<line x1="433.70" y1="688.60" x2="435.60" y2="688.60" stroke="#111" stroke-width="1.1" />
<text x="430.50" y="692.30" font-size="10.4" text-anchor="end" fill="#1a1a1a" >0.0</text>
<line x1="433.70" y1="656.26" x2="435.60" y2="656.26" stroke="#111" stroke-width="1.1" />
<text x="430.50" y="659.97" font-size="10.4" text-anchor="end" fill="#1a1a1a" >0.5</text>
<line x1="433.70" y1="623.93" x2="435.60" y2="623.93" stroke="#111" stroke-width="1.1" />
<text x="430.50" y="627.63" font-size="10.4" text-anchor="end" fill="#1a1a1a" >1.0</text>
<line x1="433.70" y1="591.60" x2="435.60" y2="591.60" stroke="#111" stroke-width="1.1" />
<text x="430.50" y="595.30" font-size="10.4" text-anchor="end" fill="#1a1a1a" >1.5</text>
<text x="0" y="0" transform="translate(413.20,640.50) rotate(-90)" font-size="11" text-anchor="middle" fill="#1a1a1a" >Relative expression</text>
<text x="518.80" y="561.10" font-size="16.7" text-anchor="start" fill="#1a1a1a" >NCI-H23</text>
<rect x="650.70" y="564.70" width="6.80" height="6.80" fill="#0d0b0a" />
<rect x="651.10" y="576.80" width="6.00" height="6.00" fill="#8a8a8a" stroke="#333" stroke-width="0.8"/>
<text x="662.60" y="570.50" font-size="11" text-anchor="start" fill="#1a1a1a" >siCtrl</text>
<text x="662.60" y="582.70" font-size="11" text-anchor="start" fill="#1a1a1a" >siTAZ-AS202 #1</text>
<line x1="436.60" y1="745.30" x2="560.40" y2="745.30" stroke="#888" stroke-width="1.2" />
<text x="499.00" y="759.60" font-size="11" text-anchor="middle" fill="#1a1a1a" >WNT signaling</text>
<line x1="566.20" y1="741.50" x2="640.60" y2="741.50" stroke="#888" stroke-width="1.2" />
<text x="599.50" y="761.00" font-size="11" text-anchor="middle" fill="#1a1a1a" >Ephrin signaling</text>
<line x1="626.20" y1="736.60" x2="669.40" y2="736.60" stroke="#999" stroke-width="1.2" />
<text x="685.70" y="761.00" font-size="11" text-anchor="middle" fill="#1a1a1a" >Vesicle-mediated</text>
<text x="686.40" y="774.60" font-size="11" text-anchor="middle" fill="#1a1a1a" >transport</text>
<line x1="75.05" y1="902.70" x2="75.05" y2="899.74" stroke="#0d0b0a" stroke-width="1.0" />
<line x1="72.05" y1="899.74" x2="78.05" y2="899.74" stroke="#0d0b0a" stroke-width="1.0" />
<rect x="70.10" y="902.70" width="9.90" height="49.40" fill="#0d0b0a" />
<rect x="82.70" y="923.45" width="9.30" height="28.65" fill="#a9a9a9" stroke="#444" stroke-width="0.8"/>
<line x1="87.35" y1="920.98" x2="87.35" y2="925.92" stroke="#333" stroke-width="0.9" />
<line x1="84.35" y1="920.98" x2="90.35" y2="920.98" stroke="#333" stroke-width="0.9" />
<line x1="84.35" y1="925.92" x2="90.35" y2="925.92" stroke="#333" stroke-width="0.9" />
<line x1="81.05" y1="952.10" x2="81.05" y2="956.60" stroke="#111" stroke-width="1.3" />
<text x="0" y="0" transform="translate(84.05,960.10) rotate(-90)" font-size="11" text-anchor="end" fill="#1a1a1a" >FOSL2</text>
<line x1="75.60" y1="854.50" x2="87.20" y2="854.50" stroke="#333" stroke-width="0.9" />
<text x="81.40" y="852.80" font-size="10" text-anchor="middle" fill="#222" stroke="#222" stroke-width="0.12">**</text>
<line x1="109.25" y1="902.70" x2="109.25" y2="900.23" stroke="#0d0b0a" stroke-width="1.0" />
<line x1="106.25" y1="900.23" x2="112.25" y2="900.23" stroke="#0d0b0a" stroke-width="1.0" />
<rect x="104.30" y="902.70" width="9.90" height="49.40" fill="#0d0b0a" />
<rect x="116.90" y="924.19" width="9.30" height="27.91" fill="#a9a9a9" stroke="#444" stroke-width="0.8"/>
<line x1="121.55" y1="923.70" x2="121.55" y2="924.68" stroke="#333" stroke-width="0.9" />
<line x1="118.55" y1="923.70" x2="124.55" y2="923.70" stroke="#333" stroke-width="0.9" />
<line x1="118.55" y1="924.68" x2="124.55" y2="924.68" stroke="#333" stroke-width="0.9" />
<line x1="115.25" y1="952.10" x2="115.25" y2="956.60" stroke="#111" stroke-width="1.3" />
<text x="0" y="0" transform="translate(118.25,960.10) rotate(-90)" font-size="11" text-anchor="end" fill="#1a1a1a" >JUNB</text>
<line x1="109.80" y1="855.30" x2="121.40" y2="855.30" stroke="#333" stroke-width="0.9" />
<text x="115.60" y="853.60" font-size="10" text-anchor="middle" fill="#222" stroke="#222" stroke-width="0.12">***</text>
<line x1="143.45" y1="902.70" x2="143.45" y2="900.23" stroke="#0d0b0a" stroke-width="1.0" />
<line x1="140.45" y1="900.23" x2="146.45" y2="900.23" stroke="#0d0b0a" stroke-width="1.0" />
<rect x="138.50" y="902.70" width="9.90" height="49.40" fill="#0d0b0a" />
<rect x="151.10" y="867.13" width="9.30" height="84.97" fill="#a9a9a9" stroke="#444" stroke-width="0.8"/>
<line x1="155.75" y1="863.67" x2="155.75" y2="870.59" stroke="#333" stroke-width="0.9" />
<line x1="152.75" y1="863.67" x2="158.75" y2="863.67" stroke="#333" stroke-width="0.9" />
<line x1="152.75" y1="870.59" x2="158.75" y2="870.59" stroke="#333" stroke-width="0.9" />
<line x1="149.45" y1="952.10" x2="149.45" y2="956.60" stroke="#111" stroke-width="1.3" />
<text x="0" y="0" transform="translate(152.45,960.10) rotate(-90)" font-size="11" text-anchor="end" fill="#1a1a1a" >NR4A1</text>
<line x1="144.00" y1="854.50" x2="155.60" y2="854.50" stroke="#333" stroke-width="0.9" />
<text x="149.80" y="852.80" font-size="10" text-anchor="middle" fill="#222" stroke="#222" stroke-width="0.12">***</text>
<line x1="177.65" y1="902.70" x2="177.65" y2="900.23" stroke="#0d0b0a" stroke-width="1.0" />
<line x1="174.65" y1="900.23" x2="180.65" y2="900.23" stroke="#0d0b0a" stroke-width="1.0" />
<rect x="172.70" y="902.70" width="9.90" height="49.40" fill="#0d0b0a" />
<rect x="185.30" y="916.53" width="9.30" height="35.57" fill="#a9a9a9" stroke="#444" stroke-width="0.8"/>
<line x1="189.95" y1="913.57" x2="189.95" y2="919.50" stroke="#333" stroke-width="0.9" />
<line x1="186.95" y1="913.57" x2="192.95" y2="913.57" stroke="#333" stroke-width="0.9" />
<line x1="186.95" y1="919.50" x2="192.95" y2="919.50" stroke="#333" stroke-width="0.9" />
<line x1="183.65" y1="952.10" x2="183.65" y2="956.60" stroke="#111" stroke-width="1.3" />
<text x="0" y="0" transform="translate(186.65,960.10) rotate(-90)" font-size="11" text-anchor="end" fill="#1a1a1a" >SMAD7</text>
<line x1="178.20" y1="854.40" x2="189.80" y2="854.40" stroke="#333" stroke-width="0.9" />
<text x="184.00" y="852.70" font-size="10" text-anchor="middle" fill="#222" stroke="#222" stroke-width="0.12">*</text>
<line x1="211.85" y1="902.70" x2="211.85" y2="899.24" stroke="#0d0b0a" stroke-width="1.0" />
<line x1="208.85" y1="899.24" x2="214.85" y2="899.24" stroke="#0d0b0a" stroke-width="1.0" />
<rect x="206.90" y="902.70" width="9.90" height="49.40" fill="#0d0b0a" />
<rect x="219.50" y="938.27" width="9.30" height="13.83" fill="#a9a9a9" stroke="#444" stroke-width="0.8"/>
<line x1="224.15" y1="936.29" x2="224.15" y2="940.24" stroke="#333" stroke-width="0.9" />
<line x1="221.15" y1="936.29" x2="227.15" y2="936.29" stroke="#333" stroke-width="0.9" />
<line x1="221.15" y1="940.24" x2="227.15" y2="940.24" stroke="#333" stroke-width="0.9" />
<line x1="217.85" y1="952.10" x2="217.85" y2="956.60" stroke="#111" stroke-width="1.3" />
<text x="0" y="0" transform="translate(220.85,960.10) rotate(-90)" font-size="11" text-anchor="end" fill="#1a1a1a" >SP6</text>
<line x1="212.40" y1="854.40" x2="224.00" y2="854.40" stroke="#333" stroke-width="0.9" />
<text x="218.20" y="852.70" font-size="10" text-anchor="middle" fill="#222" stroke="#222" stroke-width="0.12">**</text>
<line x1="246.05" y1="902.70" x2="246.05" y2="899.74" stroke="#0d0b0a" stroke-width="1.0" />
<line x1="243.05" y1="899.74" x2="249.05" y2="899.74" stroke="#0d0b0a" stroke-width="1.0" />
<rect x="241.10" y="902.70" width="9.90" height="49.40" fill="#0d0b0a" />
<rect x="253.70" y="938.27" width="9.30" height="13.83" fill="#a9a9a9" stroke="#444" stroke-width="0.8"/>
<line x1="258.35" y1="933.82" x2="258.35" y2="942.71" stroke="#333" stroke-width="0.9" />
<line x1="255.35" y1="933.82" x2="261.35" y2="933.82" stroke="#333" stroke-width="0.9" />
<line x1="255.35" y1="942.71" x2="261.35" y2="942.71" stroke="#333" stroke-width="0.9" />
<line x1="252.05" y1="952.10" x2="252.05" y2="956.60" stroke="#111" stroke-width="1.3" />
<text x="0" y="0" transform="translate(255.05,960.10) rotate(-90)" font-size="11" text-anchor="end" fill="#1a1a1a" >TCF7</text>
<line x1="246.60" y1="853.20" x2="258.20" y2="853.20" stroke="#333" stroke-width="0.9" />
<text x="252.40" y="851.50" font-size="10" text-anchor="middle" fill="#222" stroke="#222" stroke-width="0.12">**</text>
<line x1="65.10" y1="852.80" x2="65.10" y2="952.60" stroke="#111" stroke-width="1.3" />
<line x1="64.60" y1="952.10" x2="268.00" y2="952.10" stroke="#111" stroke-width="1.3" />
<line x1="59.30" y1="952.10" x2="65.10" y2="952.10" stroke="#111" stroke-width="1.3" />
<text x="56.00" y="955.90" font-size="10.7" text-anchor="end" fill="#1a1a1a" >0.0</text>
<line x1="59.30" y1="927.40" x2="65.10" y2="927.40" stroke="#111" stroke-width="1.3" />
<text x="56.00" y="931.20" font-size="10.7" text-anchor="end" fill="#1a1a1a" >0.5</text>
<line x1="59.30" y1="902.70" x2="65.10" y2="902.70" stroke="#111" stroke-width="1.3" />
<text x="56.00" y="906.50" font-size="10.7" text-anchor="end" fill="#1a1a1a" >1.0</text>
<line x1="59.30" y1="878.00" x2="65.10" y2="878.00" stroke="#111" stroke-width="1.3" />
<text x="56.00" y="881.80" font-size="10.7" text-anchor="end" fill="#1a1a1a" >1.5</text>
<line x1="59.30" y1="853.30" x2="65.10" y2="853.30" stroke="#111" stroke-width="1.3" />
<text x="56.00" y="857.10" font-size="10.7" text-anchor="end" fill="#1a1a1a" >2.0</text>
<text x="0" y="0" transform="translate(36.20,903.70) rotate(-90)" font-size="11.2" text-anchor="middle" fill="#1a1a1a" >Relative expression</text>
<text x="173.00" y="820.00" font-size="16.8" text-anchor="start" fill="#1a1a1a" >A549</text>
<rect x="276.70" y="823.60" width="7.00" height="7.00" fill="#0d0b0a" />
<rect x="277.10" y="836.00" width="6.20" height="6.20" fill="#a9a9a9" stroke="#444" stroke-width="0.8"/>
<text x="289.00" y="829.50" font-size="10.85" text-anchor="start" fill="#1a1a1a" >siCtrl</text>
<text x="289.00" y="842.00" font-size="10.85" text-anchor="start" fill="#1a1a1a" >siTAZ-AS202 #1</text>
<line x1="460.15" y1="887.00" x2="460.15" y2="880.37" stroke="#0d0b0a" stroke-width="1.0" />
<line x1="457.15" y1="880.37" x2="463.15" y2="880.37" stroke="#0d0b0a" stroke-width="1.0" />
<rect x="455.00" y="887.00" width="10.30" height="66.30" fill="#0d0b0a" />
<rect x="467.60" y="898.27" width="10.00" height="55.03" fill="#a9a9a9" stroke="#444" stroke-width="0.8"/>
<line x1="472.60" y1="894.29" x2="472.60" y2="902.25" stroke="#333" stroke-width="0.9" />
<line x1="469.60" y1="894.29" x2="475.60" y2="894.29" stroke="#333" stroke-width="0.9" />
<line x1="469.60" y1="902.25" x2="475.60" y2="902.25" stroke="#333" stroke-width="0.9" />
<line x1="466.30" y1="953.30" x2="466.30" y2="957.80" stroke="#111" stroke-width="1.3" />
<text x="0" y="0" transform="translate(469.30,961.30) rotate(-90)" font-size="11" text-anchor="end" fill="#1a1a1a" >FOSL2</text>
<line x1="495.15" y1="887.00" x2="495.15" y2="881.03" stroke="#0d0b0a" stroke-width="1.0" />
<line x1="492.15" y1="881.03" x2="498.15" y2="881.03" stroke="#0d0b0a" stroke-width="1.0" />
<rect x="490.00" y="887.00" width="10.30" height="66.30" fill="#0d0b0a" />
<rect x="502.60" y="900.26" width="10.00" height="53.04" fill="#a9a9a9" stroke="#444" stroke-width="0.8"/>
<line x1="507.60" y1="898.27" x2="507.60" y2="902.25" stroke="#333" stroke-width="0.9" />
<line x1="504.60" y1="898.27" x2="510.60" y2="898.27" stroke="#333" stroke-width="0.9" />
<line x1="504.60" y1="902.25" x2="510.60" y2="902.25" stroke="#333" stroke-width="0.9" />
<line x1="501.30" y1="953.30" x2="501.30" y2="957.80" stroke="#111" stroke-width="1.3" />
<text x="0" y="0" transform="translate(504.30,961.30) rotate(-90)" font-size="11" text-anchor="end" fill="#1a1a1a" >JUNB</text>
<line x1="530.15" y1="887.00" x2="530.15" y2="884.35" stroke="#0d0b0a" stroke-width="1.0" />
<line x1="527.15" y1="884.35" x2="533.15" y2="884.35" stroke="#0d0b0a" stroke-width="1.0" />
<rect x="525.00" y="887.00" width="10.30" height="66.30" fill="#0d0b0a" />
<rect x="537.60" y="862.47" width="10.00" height="90.83" fill="#a9a9a9" stroke="#444" stroke-width="0.8"/>
<line x1="542.60" y1="859.15" x2="542.60" y2="865.78" stroke="#333" stroke-width="0.9" />
<line x1="539.60" y1="859.15" x2="545.60" y2="859.15" stroke="#333" stroke-width="0.9" />
<line x1="539.60" y1="865.78" x2="545.60" y2="865.78" stroke="#333" stroke-width="0.9" />
<line x1="536.30" y1="953.30" x2="536.30" y2="957.80" stroke="#111" stroke-width="1.3" />
<text x="0" y="0" transform="translate(539.30,961.30) rotate(-90)" font-size="11" text-anchor="end" fill="#1a1a1a" >NR4A1</text>
<line x1="528.40" y1="852.20" x2="539.00" y2="852.20" stroke="#333" stroke-width="0.9" />
<text x="533.70" y="850.50" font-size="10" text-anchor="middle" fill="#222" stroke="#222" stroke-width="0.12">**</text>
<line x1="565.15" y1="887.00" x2="565.15" y2="880.37" stroke="#0d0b0a" stroke-width="1.0" />
<line x1="562.15" y1="880.37" x2="568.15" y2="880.37" stroke="#0d0b0a" stroke-width="1.0" />
<rect x="560.00" y="887.00" width="10.30" height="66.30" fill="#0d0b0a" />
<rect x="572.60" y="898.93" width="10.00" height="54.37" fill="#a9a9a9" stroke="#444" stroke-width="0.8"/>
<line x1="577.60" y1="894.29" x2="577.60" y2="903.57" stroke="#333" stroke-width="0.9" />
<line x1="574.60" y1="894.29" x2="580.60" y2="894.29" stroke="#333" stroke-width="0.9" />
<line x1="574.60" y1="903.57" x2="580.60" y2="903.57" stroke="#333" stroke-width="0.9" />
<line x1="571.30" y1="953.30" x2="571.30" y2="957.80" stroke="#111" stroke-width="1.3" />
<text x="0" y="0" transform="translate(574.30,961.30) rotate(-90)" font-size="11" text-anchor="end" fill="#1a1a1a" >SMAD7</text>
<line x1="600.15" y1="887.00" x2="600.15" y2="883.68" stroke="#0d0b0a" stroke-width="1.0" />
<line x1="597.15" y1="883.68" x2="603.15" y2="883.68" stroke="#0d0b0a" stroke-width="1.0" />
<rect x="595.00" y="887.00" width="10.30" height="66.30" fill="#0d0b0a" />
<rect x="607.60" y="921.48" width="10.00" height="31.82" fill="#a9a9a9" stroke="#444" stroke-width="0.8"/>
<line x1="612.60" y1="920.15" x2="612.60" y2="922.80" stroke="#333" stroke-width="0.9" />
<line x1="609.60" y1="920.15" x2="615.60" y2="920.15" stroke="#333" stroke-width="0.9" />
<line x1="609.60" y1="922.80" x2="615.60" y2="922.80" stroke="#333" stroke-width="0.9" />
<line x1="606.30" y1="953.30" x2="606.30" y2="957.80" stroke="#111" stroke-width="1.3" />
<text x="0" y="0" transform="translate(609.30,961.30) rotate(-90)" font-size="11" text-anchor="end" fill="#1a1a1a" >SP6</text>
<line x1="596.30" y1="853.10" x2="606.90" y2="853.10" stroke="#333" stroke-width="0.9" />
<text x="601.60" y="851.40" font-size="10" text-anchor="middle" fill="#222" stroke="#222" stroke-width="0.12">***</text>
<line x1="635.15" y1="887.00" x2="635.15" y2="879.04" stroke="#0d0b0a" stroke-width="1.0" />
<line x1="632.15" y1="879.04" x2="638.15" y2="879.04" stroke="#0d0b0a" stroke-width="1.0" />
<rect x="630.00" y="887.00" width="10.30" height="66.30" fill="#0d0b0a" />
<rect x="642.60" y="912.19" width="10.00" height="41.11" fill="#a9a9a9" stroke="#444" stroke-width="0.8"/>
<line x1="647.60" y1="909.54" x2="647.60" y2="914.85" stroke="#333" stroke-width="0.9" />
<line x1="644.60" y1="909.54" x2="650.60" y2="909.54" stroke="#333" stroke-width="0.9" />
<line x1="644.60" y1="914.85" x2="650.60" y2="914.85" stroke="#333" stroke-width="0.9" />
<line x1="641.30" y1="953.30" x2="641.30" y2="957.80" stroke="#111" stroke-width="1.3" />
<text x="0" y="0" transform="translate(644.30,961.30) rotate(-90)" font-size="11" text-anchor="end" fill="#1a1a1a" >TCF7</text>
<line x1="631.30" y1="853.80" x2="641.90" y2="853.80" stroke="#333" stroke-width="0.9" />
<text x="636.60" y="852.10" font-size="10" text-anchor="middle" fill="#222" stroke="#222" stroke-width="0.12">*</text>
<line x1="450.00" y1="853.35" x2="450.00" y2="953.80" stroke="#111" stroke-width="1.3" />
<line x1="449.50" y1="953.30" x2="656.90" y2="953.30" stroke="#111" stroke-width="1.3" />
<line x1="444.20" y1="953.30" x2="450.00" y2="953.30" stroke="#111" stroke-width="1.3" />
<text x="441.60" y="956.10" font-size="10.7" text-anchor="end" fill="#1a1a1a" >0.0</text>
<line x1="444.20" y1="920.15" x2="450.00" y2="920.15" stroke="#111" stroke-width="1.3" />
<text x="441.60" y="922.95" font-size="10.7" text-anchor="end" fill="#1a1a1a" >0.5</text>
<line x1="444.20" y1="887.00" x2="450.00" y2="887.00" stroke="#111" stroke-width="1.3" />
<text x="441.60" y="889.80" font-size="10.7" text-anchor="end" fill="#1a1a1a" >1.0</text>
<line x1="444.20" y1="853.85" x2="450.00" y2="853.85" stroke="#111" stroke-width="1.3" />
<text x="441.60" y="856.65" font-size="10.7" text-anchor="end" fill="#1a1a1a" >1.5</text>
<text x="0" y="0" transform="translate(422.20,904.00) rotate(-90)" font-size="11.2" text-anchor="middle" fill="#1a1a1a" >Relative expression</text>
<text x="511.60" y="820.00" font-size="16.7" text-anchor="start" fill="#1a1a1a" >NCI-H23</text>
<rect x="658.80" y="823.10" width="7.00" height="7.00" fill="#0d0b0a" />
<rect x="659.20" y="835.50" width="6.20" height="6.20" fill="#a9a9a9" stroke="#444" stroke-width="0.8"/>
<text x="670.80" y="828.40" font-size="10.85" text-anchor="start" fill="#1a1a1a" >siCtrl</text>
<text x="670.80" y="841.60" font-size="10.85" text-anchor="start" fill="#1a1a1a" >siTAZ-AS202 #1</text>
</svg>
</body></html>
